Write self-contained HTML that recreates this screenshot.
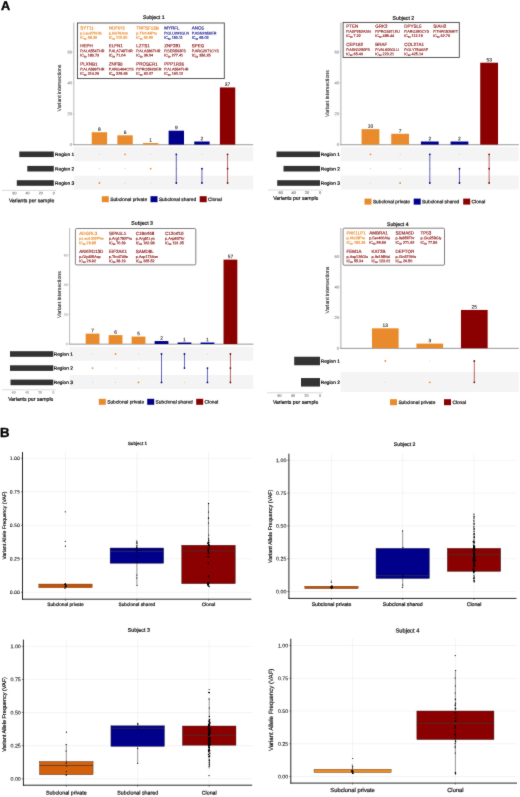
<!DOCTYPE html>
<html lang="en"><head><meta charset="utf-8"><title>Figure</title>
<style>
html,body{margin:0;padding:0;background:#fff;}
svg{display:block;font-family:"Liberation Sans",sans-serif;text-rendering:geometricPrecision;}
</style></head><body>
<svg width="520" height="797" viewBox="0 0 520 797">
<defs><filter id="soft" x="0" y="0" width="520" height="797" filterUnits="userSpaceOnUse" color-interpolation-filters="sRGB"><feConvolveMatrix order="3" kernelMatrix="0.2 0.8 0.2 0.8 8 0.8 0.2 0.8 0.2" edgeMode="duplicate" preserveAlpha="true"/></filter></defs>
<rect width="520" height="797" fill="#fff"/>
<g filter="url(#soft)">
<rect width="520" height="797" fill="#fff"/>
<text x="0.9" y="9.9" font-size="12.7" font-weight="bold" fill="#000" stroke="#000" stroke-width="0.35">A</text>
<text x="0" y="436.8" font-size="13.2" font-weight="bold" fill="#000" stroke="#000" stroke-width="0.35">B</text>
<rect x="73.8" y="147" width="179.4" height="14.2" fill="#F4F4F4"/>
<rect x="73.8" y="175.6" width="179.4" height="13.9" fill="#F4F4F4"/>
<line x1="73.8" y1="22.5" x2="73.8" y2="144.9" stroke="#A8A8A8" stroke-width="0.8"/>
<line x1="73.3" y1="144.75" x2="253.2" y2="144.75" stroke="#8C8C8C" stroke-width="0.9"/>
<line x1="72.6" y1="144.6" x2="73.8" y2="144.6" stroke="#999" stroke-width="0.4"/>
<text transform="translate(72 146.08) rotate(0.03)" font-size="4.1" fill="#8A8A8A" text-anchor="end" stroke="#8A8A8A" stroke-width="0.1">0</text>
<line x1="72.6" y1="113.7" x2="73.8" y2="113.7" stroke="#999" stroke-width="0.4"/>
<text transform="translate(72 115.18) rotate(0.03)" font-size="4.1" fill="#8A8A8A" text-anchor="end" stroke="#8A8A8A" stroke-width="0.1">20</text>
<line x1="72.6" y1="82.8" x2="73.8" y2="82.8" stroke="#999" stroke-width="0.4"/>
<text transform="translate(72 84.28) rotate(0.03)" font-size="4.1" fill="#8A8A8A" text-anchor="end" stroke="#8A8A8A" stroke-width="0.1">40</text>
<line x1="72.6" y1="51.9" x2="73.8" y2="51.9" stroke="#999" stroke-width="0.4"/>
<text transform="translate(72 53.38) rotate(0.03)" font-size="4.1" fill="#8A8A8A" text-anchor="end" stroke="#8A8A8A" stroke-width="0.1">60</text>
<rect x="91.74" y="132.24" width="15.38" height="12.36" fill="#E98B2C"/>
<text transform="translate(99.43 130.9) rotate(0.03)" font-size="4.9" fill="#111" text-anchor="middle" stroke="#111" stroke-width="0.08">8</text>
<rect x="117.37" y="135.33" width="15.38" height="9.27" fill="#E98B2C"/>
<text transform="translate(125.06 133.99) rotate(0.03)" font-size="4.9" fill="#111" text-anchor="middle" stroke="#111" stroke-width="0.08">6</text>
<rect x="143" y="143.06" width="15.38" height="1.54" fill="#E98B2C"/>
<text transform="translate(150.69 141.72) rotate(0.03)" font-size="4.9" fill="#111" text-anchor="middle" stroke="#111" stroke-width="0.08">1</text>
<rect x="168.63" y="130.69" width="15.38" height="13.91" fill="#00008B"/>
<text transform="translate(176.31 129.36) rotate(0.03)" font-size="4.9" fill="#111" text-anchor="middle" stroke="#111" stroke-width="0.08">9</text>
<rect x="194.25" y="141.51" width="15.38" height="3.09" fill="#00008B"/>
<text transform="translate(201.94 140.17) rotate(0.03)" font-size="4.9" fill="#111" text-anchor="middle" stroke="#111" stroke-width="0.08">2</text>
<rect x="219.88" y="87.44" width="15.38" height="57.16" fill="#8B0000"/>
<text transform="translate(227.57 86.1) rotate(0.03)" font-size="4.9" fill="#111" text-anchor="middle" stroke="#111" stroke-width="0.08">37</text>
<circle cx="99.43" cy="154.3" r="0.6" fill="#D0D0D0"/>
<circle cx="99.43" cy="168.7" r="0.6" fill="#D0D0D0"/>
<circle cx="99.43" cy="183" r="0.88" fill="#E98B2C"/>
<circle cx="125.06" cy="168.7" r="0.6" fill="#D0D0D0"/>
<circle cx="125.06" cy="183" r="0.6" fill="#D0D0D0"/>
<circle cx="125.06" cy="154.3" r="0.88" fill="#E98B2C"/>
<circle cx="150.69" cy="154.3" r="0.6" fill="#D0D0D0"/>
<circle cx="150.69" cy="183" r="0.6" fill="#D0D0D0"/>
<circle cx="150.69" cy="168.7" r="0.88" fill="#E98B2C"/>
<circle cx="176.31" cy="168.7" r="0.6" fill="#D0D0D0"/>
<line x1="176.31" y1="154.3" x2="176.31" y2="183" stroke="#00008B" stroke-width="0.6"/>
<circle cx="176.31" cy="154.3" r="0.88" fill="#00008B"/>
<circle cx="176.31" cy="183" r="0.88" fill="#00008B"/>
<circle cx="201.94" cy="154.3" r="0.6" fill="#D0D0D0"/>
<line x1="201.94" y1="168.7" x2="201.94" y2="183" stroke="#00008B" stroke-width="0.6"/>
<circle cx="201.94" cy="168.7" r="0.88" fill="#00008B"/>
<circle cx="201.94" cy="183" r="0.88" fill="#00008B"/>
<line x1="227.57" y1="154.3" x2="227.57" y2="183" stroke="#8B0000" stroke-width="0.6"/>
<circle cx="227.57" cy="154.3" r="0.88" fill="#8B0000"/>
<circle cx="227.57" cy="168.7" r="0.88" fill="#8B0000"/>
<circle cx="227.57" cy="183" r="0.88" fill="#8B0000"/>
<rect x="19.3" y="151.5" width="34.5" height="5.6" fill="#333333"/>
<text transform="translate(55.1 156.01) rotate(0.03)" font-size="4.75" fill="#000" stroke="#000" stroke-width="0.2">Region 1</text>
<rect x="27.3" y="165.9" width="26.5" height="5.6" fill="#333333"/>
<text transform="translate(55.1 170.41) rotate(0.03)" font-size="4.75" fill="#000" stroke="#000" stroke-width="0.2">Region 2</text>
<rect x="16.8" y="180.2" width="37" height="5.6" fill="#333333"/>
<text transform="translate(55.1 184.71) rotate(0.03)" font-size="4.75" fill="#000" stroke="#000" stroke-width="0.2">Region 3</text>
<line x1="2" y1="190.4" x2="56" y2="190.4" stroke="#B5B5B5" stroke-width="0.5"/>
<text transform="translate(53.8 194.3) rotate(0.03)" font-size="3.6" fill="#8A8A8A" text-anchor="middle" stroke="#8A8A8A" stroke-width="0.2">0</text>
<text transform="translate(40.68 194.3) rotate(0.03)" font-size="3.6" fill="#8A8A8A" text-anchor="middle" stroke="#8A8A8A" stroke-width="0.2">20</text>
<text transform="translate(27.56 194.3) rotate(0.03)" font-size="3.6" fill="#8A8A8A" text-anchor="middle" stroke="#8A8A8A" stroke-width="0.2">40</text>
<text transform="translate(14.44 194.3) rotate(0.03)" font-size="3.6" fill="#8A8A8A" text-anchor="middle" stroke="#8A8A8A" stroke-width="0.2">60</text>
<text transform="translate(31.6 202.15) rotate(0.03)" font-size="5.15" fill="#111" text-anchor="middle" stroke="#111" stroke-width="0.2">Variants per sample</text>
<text transform="translate(153.8 19.07) rotate(0.03)" font-size="5.2" fill="#111" text-anchor="middle" stroke="#111" stroke-width="0.2">Subject 1</text>
<text transform="translate(59.4 88) rotate(-90)" font-size="5.22" fill="#222" text-anchor="middle" dy="1.9" stroke="#222" stroke-width="0.08">Variant intersections</text>
<rect x="77.4" y="23" width="146.9" height="55.6" fill="#FFFFFF" stroke="#3C3C3C" stroke-width="0.85"/>
<text transform="translate(80.3 29.62) rotate(0.03)" font-size="4.5" fill="#E98B2C" stroke="#E98B2C" stroke-width="0.16">SYT11</text>
<text transform="translate(80.3 34.55) rotate(0.03)" font-size="3.75" fill="#E98B2C" stroke="#E98B2C" stroke-width="0.16">p.Leu272Hfs</text>
<text transform="translate(80.3 38.85) rotate(0.03)" font-size="3.75" fill="#E98B2C" stroke="#E98B2C" stroke-width="0.16">IC<tspan font-size="2.33" dy="0.82">50</tspan><tspan dy="-0.82"> 68.36</tspan></text>
<text transform="translate(108.7 29.62) rotate(0.03)" font-size="4.5" fill="#E98B2C" stroke="#E98B2C" stroke-width="0.16">NDFIP2</text>
<text transform="translate(108.7 34.55) rotate(0.03)" font-size="3.75" fill="#E98B2C" stroke="#E98B2C" stroke-width="0.16">p.His76Asn</text>
<text transform="translate(108.7 38.85) rotate(0.03)" font-size="3.75" fill="#E98B2C" stroke="#E98B2C" stroke-width="0.16">IC<tspan font-size="2.33" dy="0.82">50</tspan><tspan dy="-0.82"> 110.30</tspan></text>
<text transform="translate(136.3 29.62) rotate(0.03)" font-size="4.5" fill="#E98B2C" stroke="#E98B2C" stroke-width="0.16">TNFSF13B</text>
<text transform="translate(136.3 34.55) rotate(0.03)" font-size="3.75" fill="#E98B2C" stroke="#E98B2C" stroke-width="0.16">p.Thr143Pro</text>
<text transform="translate(136.3 38.85) rotate(0.03)" font-size="3.75" fill="#E98B2C" stroke="#E98B2C" stroke-width="0.16">IC<tspan font-size="2.33" dy="0.82">50</tspan><tspan dy="-0.82"> 62.90</tspan></text>
<text transform="translate(164.3 29.62) rotate(0.03)" font-size="4.5" fill="#1C1C8E" stroke="#1C1C8E" stroke-width="0.16">MYRFL</text>
<text transform="translate(164.3 34.55) rotate(0.03)" font-size="3.75" fill="#1C1C8E" stroke="#1C1C8E" stroke-width="0.16">P.GLU291GLN</text>
<text transform="translate(164.3 38.85) rotate(0.03)" font-size="3.75" fill="#1C1C8E" stroke="#1C1C8E" stroke-width="0.16">IC<tspan font-size="2.33" dy="0.82">50</tspan><tspan dy="-0.82"> 153.11</tspan></text>
<text transform="translate(191.8 29.62) rotate(0.03)" font-size="4.5" fill="#1C1C8E" stroke="#1C1C8E" stroke-width="0.16">ANO5</text>
<text transform="translate(191.8 34.55) rotate(0.03)" font-size="3.75" fill="#1C1C8E" stroke="#1C1C8E" stroke-width="0.16">P.ASN265SER</text>
<text transform="translate(191.8 38.85) rotate(0.03)" font-size="3.75" fill="#1C1C8E" stroke="#1C1C8E" stroke-width="0.16">IC<tspan font-size="2.33" dy="0.82">50</tspan><tspan dy="-0.82"> 65.03</tspan></text>
<text transform="translate(80.3 47.32) rotate(0.03)" font-size="4.5" fill="#8E1B1B" stroke="#8E1B1B" stroke-width="0.16">HEPH</text>
<text transform="translate(80.3 52.25) rotate(0.03)" font-size="3.75" fill="#8E1B1B" stroke="#8E1B1B" stroke-width="0.16">P.ALA554THR</text>
<text transform="translate(80.3 56.55) rotate(0.03)" font-size="3.75" fill="#8E1B1B" stroke="#8E1B1B" stroke-width="0.16">IC<tspan font-size="2.33" dy="0.82">50</tspan><tspan dy="-0.82"> 183.73</tspan></text>
<text transform="translate(108.7 47.32) rotate(0.03)" font-size="4.5" fill="#8E1B1B" stroke="#8E1B1B" stroke-width="0.16">ELFN1</text>
<text transform="translate(108.7 52.25) rotate(0.03)" font-size="3.75" fill="#8E1B1B" stroke="#8E1B1B" stroke-width="0.16">P.ALA749THR</text>
<text transform="translate(108.7 56.55) rotate(0.03)" font-size="3.75" fill="#8E1B1B" stroke="#8E1B1B" stroke-width="0.16">IC<tspan font-size="2.33" dy="0.82">50</tspan><tspan dy="-0.82"> 71.04</tspan></text>
<text transform="translate(136.3 47.32) rotate(0.03)" font-size="4.5" fill="#8E1B1B" stroke="#8E1B1B" stroke-width="0.16">LZTS1</text>
<text transform="translate(136.3 52.25) rotate(0.03)" font-size="3.75" fill="#8E1B1B" stroke="#8E1B1B" stroke-width="0.16">P.ALA386THR</text>
<text transform="translate(136.3 56.55) rotate(0.03)" font-size="3.75" fill="#8E1B1B" stroke="#8E1B1B" stroke-width="0.16">IC<tspan font-size="2.33" dy="0.82">50</tspan><tspan dy="-0.82"> 39.04</tspan></text>
<text transform="translate(164.3 47.32) rotate(0.03)" font-size="4.5" fill="#8E1B1B" stroke="#8E1B1B" stroke-width="0.16">ZNF281</text>
<text transform="translate(164.3 52.25) rotate(0.03)" font-size="3.75" fill="#8E1B1B" stroke="#8E1B1B" stroke-width="0.16">P.SER593FS</text>
<text transform="translate(164.3 56.55) rotate(0.03)" font-size="3.75" fill="#8E1B1B" stroke="#8E1B1B" stroke-width="0.16">IC<tspan font-size="2.33" dy="0.82">50</tspan><tspan dy="-0.82"> 277.41</tspan></text>
<text transform="translate(191.8 47.32) rotate(0.03)" font-size="4.5" fill="#8E1B1B" stroke="#8E1B1B" stroke-width="0.16">SPEG</text>
<text transform="translate(191.8 52.25) rotate(0.03)" font-size="3.75" fill="#8E1B1B" stroke="#8E1B1B" stroke-width="0.16">P.ARG2071CYS</text>
<text transform="translate(191.8 56.55) rotate(0.03)" font-size="3.75" fill="#8E1B1B" stroke="#8E1B1B" stroke-width="0.16">IC<tspan font-size="2.33" dy="0.82">50</tspan><tspan dy="-0.82"> 356.25</tspan></text>
<text transform="translate(80.3 65.62) rotate(0.03)" font-size="4.5" fill="#8E1B1B" stroke="#8E1B1B" stroke-width="0.16">PLXNB1</text>
<text transform="translate(80.3 70.55) rotate(0.03)" font-size="3.75" fill="#8E1B1B" stroke="#8E1B1B" stroke-width="0.16">P.ALA589THR</text>
<text transform="translate(80.3 74.85) rotate(0.03)" font-size="3.75" fill="#8E1B1B" stroke="#8E1B1B" stroke-width="0.16">IC<tspan font-size="2.33" dy="0.82">50</tspan><tspan dy="-0.82"> 314.26</tspan></text>
<text transform="translate(108.7 65.62) rotate(0.03)" font-size="4.5" fill="#8E1B1B" stroke="#8E1B1B" stroke-width="0.16">ZNF90</text>
<text transform="translate(108.7 70.55) rotate(0.03)" font-size="3.75" fill="#8E1B1B" stroke="#8E1B1B" stroke-width="0.16">P.ARG464CYS</text>
<text transform="translate(108.7 74.85) rotate(0.03)" font-size="3.75" fill="#8E1B1B" stroke="#8E1B1B" stroke-width="0.16">IC<tspan font-size="2.33" dy="0.82">50</tspan><tspan dy="-0.82"> 325.65</tspan></text>
<text transform="translate(136.3 65.62) rotate(0.03)" font-size="4.5" fill="#8E1B1B" stroke="#8E1B1B" stroke-width="0.16">PROSER1</text>
<text transform="translate(136.3 70.55) rotate(0.03)" font-size="3.75" fill="#8E1B1B" stroke="#8E1B1B" stroke-width="0.16">P.PRO592SER</text>
<text transform="translate(136.3 74.85) rotate(0.03)" font-size="3.75" fill="#8E1B1B" stroke="#8E1B1B" stroke-width="0.16">IC<tspan font-size="2.33" dy="0.82">50</tspan><tspan dy="-0.82"> 60.07</tspan></text>
<text transform="translate(164.3 65.62) rotate(0.03)" font-size="4.5" fill="#8E1B1B" stroke="#8E1B1B" stroke-width="0.16">PPP1R26</text>
<text transform="translate(164.3 70.55) rotate(0.03)" font-size="3.75" fill="#8E1B1B" stroke="#8E1B1B" stroke-width="0.16">P.ALA554THR</text>
<text transform="translate(164.3 74.85) rotate(0.03)" font-size="3.75" fill="#8E1B1B" stroke="#8E1B1B" stroke-width="0.16">IC<tspan font-size="2.33" dy="0.82">50</tspan><tspan dy="-0.82"> 160.12</tspan></text>
<rect x="101.8" y="196.2" width="7" height="6" fill="#E98B2C"/>
<text transform="translate(110.2 200.94) rotate(0.03)" font-size="4.82" fill="#111" stroke="#111" stroke-width="0.2">Subclonal private</text>
<rect x="150.5" y="196.2" width="7" height="6" fill="#00008B"/>
<text transform="translate(158.9 200.94) rotate(0.03)" font-size="4.82" fill="#111" stroke="#111" stroke-width="0.2">Subclonal shared</text>
<rect x="199.7" y="196.2" width="7" height="6" fill="#8B0000"/>
<text transform="translate(208.1 200.94) rotate(0.03)" font-size="4.82" fill="#111" stroke="#111" stroke-width="0.2">Clonal</text>
<rect x="340.8" y="147" width="178" height="14.2" fill="#F4F4F4"/>
<rect x="340.8" y="175.5" width="178" height="14" fill="#F4F4F4"/>
<line x1="340.8" y1="22.5" x2="340.8" y2="144.9" stroke="#CDCDCD" stroke-width="1.7"/>
<line x1="340.3" y1="144.75" x2="518.8" y2="144.75" stroke="#8C8C8C" stroke-width="0.9"/>
<line x1="339.6" y1="144.6" x2="340.8" y2="144.6" stroke="#999" stroke-width="0.4"/>
<text transform="translate(339 146.08) rotate(0.03)" font-size="4.1" fill="#8A8A8A" text-anchor="end" stroke="#8A8A8A" stroke-width="0.1">0</text>
<line x1="339.6" y1="113.7" x2="340.8" y2="113.7" stroke="#999" stroke-width="0.4"/>
<text transform="translate(339 115.18) rotate(0.03)" font-size="4.1" fill="#8A8A8A" text-anchor="end" stroke="#8A8A8A" stroke-width="0.1">20</text>
<line x1="339.6" y1="82.8" x2="340.8" y2="82.8" stroke="#999" stroke-width="0.4"/>
<text transform="translate(339 84.28) rotate(0.03)" font-size="4.1" fill="#8A8A8A" text-anchor="end" stroke="#8A8A8A" stroke-width="0.1">40</text>
<line x1="339.6" y1="51.9" x2="340.8" y2="51.9" stroke="#999" stroke-width="0.4"/>
<text transform="translate(339 53.38) rotate(0.03)" font-size="4.1" fill="#8A8A8A" text-anchor="end" stroke="#8A8A8A" stroke-width="0.1">60</text>
<rect x="361.57" y="129.15" width="17.8" height="15.45" fill="#E98B2C"/>
<text transform="translate(370.47 127.81) rotate(0.03)" font-size="4.9" fill="#111" text-anchor="middle" stroke="#111" stroke-width="0.08">10</text>
<rect x="391.23" y="133.78" width="17.8" height="10.81" fill="#E98B2C"/>
<text transform="translate(400.13 132.45) rotate(0.03)" font-size="4.9" fill="#111" text-anchor="middle" stroke="#111" stroke-width="0.08">7</text>
<rect x="420.9" y="141.51" width="17.8" height="3.09" fill="#00008B"/>
<text transform="translate(429.8 140.17) rotate(0.03)" font-size="4.9" fill="#111" text-anchor="middle" stroke="#111" stroke-width="0.08">2</text>
<rect x="450.57" y="141.51" width="17.8" height="3.09" fill="#00008B"/>
<text transform="translate(459.47 140.17) rotate(0.03)" font-size="4.9" fill="#111" text-anchor="middle" stroke="#111" stroke-width="0.08">2</text>
<rect x="480.23" y="62.72" width="17.8" height="81.88" fill="#8B0000"/>
<text transform="translate(489.13 61.38) rotate(0.03)" font-size="4.9" fill="#111" text-anchor="middle" stroke="#111" stroke-width="0.08">53</text>
<circle cx="370.47" cy="168.7" r="0.6" fill="#D0D0D0"/>
<circle cx="370.47" cy="183" r="0.6" fill="#D0D0D0"/>
<circle cx="370.47" cy="154.3" r="0.88" fill="#E98B2C"/>
<circle cx="400.13" cy="154.3" r="0.6" fill="#D0D0D0"/>
<circle cx="400.13" cy="168.7" r="0.6" fill="#D0D0D0"/>
<circle cx="400.13" cy="183" r="0.88" fill="#E98B2C"/>
<circle cx="429.8" cy="168.7" r="0.6" fill="#D0D0D0"/>
<line x1="429.8" y1="154.3" x2="429.8" y2="183" stroke="#00008B" stroke-width="0.6"/>
<circle cx="429.8" cy="154.3" r="0.88" fill="#00008B"/>
<circle cx="429.8" cy="183" r="0.88" fill="#00008B"/>
<circle cx="459.47" cy="154.3" r="0.6" fill="#D0D0D0"/>
<line x1="459.47" y1="168.7" x2="459.47" y2="183" stroke="#00008B" stroke-width="0.6"/>
<circle cx="459.47" cy="168.7" r="0.88" fill="#00008B"/>
<circle cx="459.47" cy="183" r="0.88" fill="#00008B"/>
<line x1="489.13" y1="154.3" x2="489.13" y2="183" stroke="#8B0000" stroke-width="0.6"/>
<circle cx="489.13" cy="154.3" r="0.88" fill="#8B0000"/>
<circle cx="489.13" cy="168.7" r="0.88" fill="#8B0000"/>
<circle cx="489.13" cy="183" r="0.88" fill="#8B0000"/>
<rect x="276.5" y="151.5" width="43.5" height="5.6" fill="#333333"/>
<text transform="translate(320.8 156.01) rotate(0.03)" font-size="4.75" fill="#000" stroke="#000" stroke-width="0.2">Region 1</text>
<rect x="283.5" y="165.9" width="36.5" height="5.6" fill="#333333"/>
<text transform="translate(320.8 170.41) rotate(0.03)" font-size="4.75" fill="#000" stroke="#000" stroke-width="0.2">Region 2</text>
<rect x="277.2" y="180.2" width="42.8" height="5.6" fill="#333333"/>
<text transform="translate(320.8 184.71) rotate(0.03)" font-size="4.75" fill="#000" stroke="#000" stroke-width="0.2">Region 3</text>
<line x1="268" y1="190" x2="322.5" y2="190" stroke="#B5B5B5" stroke-width="0.5"/>
<text transform="translate(320 194.04) rotate(0.03)" font-size="4" fill="#8A8A8A" text-anchor="middle" stroke="#8A8A8A" stroke-width="0.2">0</text>
<text transform="translate(306.88 194.04) rotate(0.03)" font-size="4" fill="#8A8A8A" text-anchor="middle" stroke="#8A8A8A" stroke-width="0.2">20</text>
<text transform="translate(293.76 194.04) rotate(0.03)" font-size="4" fill="#8A8A8A" text-anchor="middle" stroke="#8A8A8A" stroke-width="0.2">40</text>
<text transform="translate(280.64 194.04) rotate(0.03)" font-size="4" fill="#8A8A8A" text-anchor="middle" stroke="#8A8A8A" stroke-width="0.2">60</text>
<text transform="translate(295.8 199.85) rotate(0.03)" font-size="5.15" fill="#111" text-anchor="middle" stroke="#111" stroke-width="0.2">Variants per sample</text>
<text transform="translate(403.4 19.87) rotate(0.03)" font-size="5.2" fill="#111" text-anchor="middle" stroke="#111" stroke-width="0.2">Subject 2</text>
<text transform="translate(327 93.5) rotate(-90)" font-size="5.22" fill="#222" text-anchor="middle" dy="1.9" stroke="#222" stroke-width="0.08">Variant intersections</text>
<rect x="343.1" y="22.4" width="116.2" height="35" fill="#FFFFFF" stroke="#3C3C3C" stroke-width="0.85"/>
<text transform="translate(346.2 27.72) rotate(0.03)" font-size="4.5" fill="#8E1B1B" stroke="#8E1B1B" stroke-width="0.16">PTEN</text>
<text transform="translate(346.2 32.65) rotate(0.03)" font-size="3.75" fill="#8E1B1B" stroke="#8E1B1B" stroke-width="0.16">P.ASP252ASN</text>
<text transform="translate(346.2 36.95) rotate(0.03)" font-size="3.75" fill="#8E1B1B" stroke="#8E1B1B" stroke-width="0.16">IC<tspan font-size="2.33" dy="0.82">50</tspan><tspan dy="-0.82"> 7.22</tspan></text>
<text transform="translate(375.2 27.72) rotate(0.03)" font-size="4.5" fill="#8E1B1B" stroke="#8E1B1B" stroke-width="0.16">GRK2</text>
<text transform="translate(375.2 32.65) rotate(0.03)" font-size="3.75" fill="#8E1B1B" stroke="#8E1B1B" stroke-width="0.16">P.PRO347LEU</text>
<text transform="translate(375.2 36.95) rotate(0.03)" font-size="3.75" fill="#8E1B1B" stroke="#8E1B1B" stroke-width="0.16">IC<tspan font-size="2.33" dy="0.82">50</tspan><tspan dy="-0.82"> 489.44</tspan></text>
<text transform="translate(404.2 27.72) rotate(0.03)" font-size="4.5" fill="#8E1B1B" stroke="#8E1B1B" stroke-width="0.16">DPYSL5</text>
<text transform="translate(404.2 32.65) rotate(0.03)" font-size="3.75" fill="#8E1B1B" stroke="#8E1B1B" stroke-width="0.16">P.ARG390CYS</text>
<text transform="translate(404.2 36.95) rotate(0.03)" font-size="3.75" fill="#8E1B1B" stroke="#8E1B1B" stroke-width="0.16">IC<tspan font-size="2.33" dy="0.82">50</tspan><tspan dy="-0.82"> 112.19</tspan></text>
<text transform="translate(433.2 27.72) rotate(0.03)" font-size="4.5" fill="#8E1B1B" stroke="#8E1B1B" stroke-width="0.16">SIAH2</text>
<text transform="translate(433.2 32.65) rotate(0.03)" font-size="3.75" fill="#8E1B1B" stroke="#8E1B1B" stroke-width="0.16">P.THR152MET</text>
<text transform="translate(433.2 36.95) rotate(0.03)" font-size="3.75" fill="#8E1B1B" stroke="#8E1B1B" stroke-width="0.16">IC<tspan font-size="2.33" dy="0.82">50</tspan><tspan dy="-0.82"> 62.76</tspan></text>
<text transform="translate(346.2 46.02) rotate(0.03)" font-size="4.5" fill="#8E1B1B" stroke="#8E1B1B" stroke-width="0.16">CEP162</text>
<text transform="translate(346.2 50.95) rotate(0.03)" font-size="3.75" fill="#8E1B1B" stroke="#8E1B1B" stroke-width="0.16">P.ASN1250FS</text>
<text transform="translate(346.2 55.25) rotate(0.03)" font-size="3.75" fill="#8E1B1B" stroke="#8E1B1B" stroke-width="0.16">IC<tspan font-size="2.33" dy="0.82">50</tspan><tspan dy="-0.82"> 65.40</tspan></text>
<text transform="translate(375.2 46.02) rotate(0.03)" font-size="4.5" fill="#8E1B1B" stroke="#8E1B1B" stroke-width="0.16">BRAF</text>
<text transform="translate(375.2 50.95) rotate(0.03)" font-size="3.75" fill="#8E1B1B" stroke="#8E1B1B" stroke-width="0.16">P.VAL600GLU</text>
<text transform="translate(375.2 55.25) rotate(0.03)" font-size="3.75" fill="#8E1B1B" stroke="#8E1B1B" stroke-width="0.16">IC<tspan font-size="2.33" dy="0.82">50</tspan><tspan dy="-0.82"> 223.21</tspan></text>
<text transform="translate(404.2 46.02) rotate(0.03)" font-size="4.5" fill="#8E1B1B" stroke="#8E1B1B" stroke-width="0.16">COL27A1</text>
<text transform="translate(404.2 50.95) rotate(0.03)" font-size="3.75" fill="#8E1B1B" stroke="#8E1B1B" stroke-width="0.16">P.GLY754ASP</text>
<text transform="translate(404.2 55.25) rotate(0.03)" font-size="3.75" fill="#8E1B1B" stroke="#8E1B1B" stroke-width="0.16">IC<tspan font-size="2.33" dy="0.82">50</tspan><tspan dy="-0.82"> 425.14</tspan></text>
<rect x="364.5" y="198.6" width="7" height="6" fill="#E98B2C"/>
<text transform="translate(372.9 203.34) rotate(0.03)" font-size="4.82" fill="#111" stroke="#111" stroke-width="0.2">Subclonal private</text>
<rect x="413.7" y="198.6" width="7" height="6" fill="#00008B"/>
<text transform="translate(422.1 203.34) rotate(0.03)" font-size="4.82" fill="#111" stroke="#111" stroke-width="0.2">Subclonal shared</text>
<rect x="463.2" y="198.6" width="7" height="6" fill="#8B0000"/>
<text transform="translate(471.6 203.34) rotate(0.03)" font-size="4.82" fill="#111" stroke="#111" stroke-width="0.2">Clonal</text>
<rect x="69.6" y="346.8" width="183.8" height="14" fill="#F4F4F4"/>
<rect x="69.6" y="375" width="183.8" height="14" fill="#F4F4F4"/>
<line x1="69.6" y1="228" x2="69.6" y2="344.3" stroke="#A8A8A8" stroke-width="0.8"/>
<line x1="69.1" y1="344.15" x2="253.4" y2="344.15" stroke="#8C8C8C" stroke-width="0.9"/>
<line x1="68.4" y1="344" x2="69.6" y2="344" stroke="#999" stroke-width="0.4"/>
<text transform="translate(67.8 345.3) rotate(0.03)" font-size="3.6" fill="#A0A0A0" text-anchor="end" stroke="#A0A0A0" stroke-width="0.1">0</text>
<line x1="68.4" y1="314.4" x2="69.6" y2="314.4" stroke="#999" stroke-width="0.4"/>
<text transform="translate(67.8 315.7) rotate(0.03)" font-size="3.6" fill="#A0A0A0" text-anchor="end" stroke="#A0A0A0" stroke-width="0.1">20</text>
<line x1="68.4" y1="284.8" x2="69.6" y2="284.8" stroke="#999" stroke-width="0.4"/>
<text transform="translate(67.8 286.1) rotate(0.03)" font-size="3.6" fill="#A0A0A0" text-anchor="end" stroke="#A0A0A0" stroke-width="0.1">40</text>
<line x1="68.4" y1="255.2" x2="69.6" y2="255.2" stroke="#999" stroke-width="0.4"/>
<text transform="translate(67.8 256.5) rotate(0.03)" font-size="3.6" fill="#A0A0A0" text-anchor="end" stroke="#A0A0A0" stroke-width="0.1">60</text>
<rect x="85.68" y="333.64" width="13.78" height="10.36" fill="#E98B2C"/>
<text transform="translate(92.57 332.3) rotate(0.03)" font-size="4.9" fill="#111" text-anchor="middle" stroke="#111" stroke-width="0.08">7</text>
<rect x="108.66" y="335.12" width="13.78" height="8.88" fill="#E98B2C"/>
<text transform="translate(115.55 333.78) rotate(0.03)" font-size="4.9" fill="#111" text-anchor="middle" stroke="#111" stroke-width="0.08">6</text>
<rect x="131.63" y="336.6" width="13.79" height="7.4" fill="#E98B2C"/>
<text transform="translate(138.53 335.26) rotate(0.03)" font-size="4.9" fill="#111" text-anchor="middle" stroke="#111" stroke-width="0.08">5</text>
<rect x="154.61" y="341.04" width="13.79" height="2.96" fill="#00008B"/>
<text transform="translate(161.5 339.7) rotate(0.03)" font-size="4.9" fill="#111" text-anchor="middle" stroke="#111" stroke-width="0.08">2</text>
<rect x="177.58" y="342.52" width="13.79" height="1.48" fill="#00008B"/>
<text transform="translate(184.47 341.18) rotate(0.03)" font-size="4.9" fill="#111" text-anchor="middle" stroke="#111" stroke-width="0.08">1</text>
<rect x="200.56" y="342.52" width="13.79" height="1.48" fill="#00008B"/>
<text transform="translate(207.45 341.18) rotate(0.03)" font-size="4.9" fill="#111" text-anchor="middle" stroke="#111" stroke-width="0.08">1</text>
<rect x="223.53" y="259.64" width="13.79" height="84.36" fill="#8B0000"/>
<text transform="translate(230.43 258.3) rotate(0.03)" font-size="4.9" fill="#111" text-anchor="middle" stroke="#111" stroke-width="0.08">57</text>
<circle cx="92.57" cy="354" r="0.6" fill="#D0D0D0"/>
<circle cx="92.57" cy="382.4" r="0.6" fill="#D0D0D0"/>
<circle cx="92.57" cy="368.1" r="0.88" fill="#E98B2C"/>
<circle cx="115.55" cy="368.1" r="0.6" fill="#D0D0D0"/>
<circle cx="115.55" cy="382.4" r="0.6" fill="#D0D0D0"/>
<circle cx="115.55" cy="354" r="0.88" fill="#E98B2C"/>
<circle cx="138.53" cy="354" r="0.6" fill="#D0D0D0"/>
<circle cx="138.53" cy="368.1" r="0.6" fill="#D0D0D0"/>
<circle cx="138.53" cy="382.4" r="0.88" fill="#E98B2C"/>
<circle cx="161.5" cy="368.1" r="0.6" fill="#D0D0D0"/>
<line x1="161.5" y1="354" x2="161.5" y2="382.4" stroke="#00008B" stroke-width="0.6"/>
<circle cx="161.5" cy="354" r="0.88" fill="#00008B"/>
<circle cx="161.5" cy="382.4" r="0.88" fill="#00008B"/>
<circle cx="184.47" cy="382.4" r="0.6" fill="#D0D0D0"/>
<line x1="184.47" y1="354" x2="184.47" y2="368.1" stroke="#00008B" stroke-width="0.6"/>
<circle cx="184.47" cy="354" r="0.88" fill="#00008B"/>
<circle cx="184.47" cy="368.1" r="0.88" fill="#00008B"/>
<circle cx="207.45" cy="354" r="0.6" fill="#D0D0D0"/>
<line x1="207.45" y1="368.1" x2="207.45" y2="382.4" stroke="#00008B" stroke-width="0.6"/>
<circle cx="207.45" cy="368.1" r="0.88" fill="#00008B"/>
<circle cx="207.45" cy="382.4" r="0.88" fill="#00008B"/>
<line x1="230.43" y1="354" x2="230.43" y2="382.4" stroke="#8B0000" stroke-width="0.6"/>
<circle cx="230.43" cy="354" r="0.88" fill="#8B0000"/>
<circle cx="230.43" cy="368.1" r="0.88" fill="#8B0000"/>
<circle cx="230.43" cy="382.4" r="0.88" fill="#8B0000"/>
<rect x="10" y="351.2" width="43.3" height="5.6" fill="#333333"/>
<text transform="translate(53.8 355.71) rotate(0.03)" font-size="4.75" fill="#000" stroke="#000" stroke-width="0.2">Region 1</text>
<rect x="10" y="365.3" width="43.3" height="5.6" fill="#333333"/>
<text transform="translate(53.8 369.81) rotate(0.03)" font-size="4.75" fill="#000" stroke="#000" stroke-width="0.2">Region 2</text>
<rect x="10.5" y="379.6" width="42.8" height="5.6" fill="#333333"/>
<text transform="translate(53.8 384.11) rotate(0.03)" font-size="4.75" fill="#000" stroke="#000" stroke-width="0.2">Region 3</text>
<line x1="2" y1="389.8" x2="55.5" y2="389.8" stroke="#B5B5B5" stroke-width="0.5"/>
<text transform="translate(53.3 393.59) rotate(0.03)" font-size="3.3" fill="#A5A5A5" text-anchor="middle" stroke="#A5A5A5" stroke-width="0.2">0</text>
<text transform="translate(40.1 393.59) rotate(0.03)" font-size="3.3" fill="#A5A5A5" text-anchor="middle" stroke="#A5A5A5" stroke-width="0.2">20</text>
<text transform="translate(26.9 393.59) rotate(0.03)" font-size="3.3" fill="#A5A5A5" text-anchor="middle" stroke="#A5A5A5" stroke-width="0.2">40</text>
<text transform="translate(13.7 393.59) rotate(0.03)" font-size="3.3" fill="#A5A5A5" text-anchor="middle" stroke="#A5A5A5" stroke-width="0.2">60</text>
<text transform="translate(30.8 400.85) rotate(0.03)" font-size="5.15" fill="#111" text-anchor="middle" stroke="#111" stroke-width="0.2">Variants per sample</text>
<text transform="translate(142.1 224.87) rotate(0.03)" font-size="5.2" fill="#111" text-anchor="middle" stroke="#111" stroke-width="0.2">Subject 3</text>
<text transform="translate(59.3 294.5) rotate(-90)" font-size="5.22" fill="#222" text-anchor="middle" dy="1.9" stroke="#222" stroke-width="0.08">Variant intersections</text>
<rect x="75.4" y="228.5" width="120.4" height="36.4" fill="#FFFFFF" stroke="#4A4A4A" stroke-width="0.7" rx="1.2"/>
<text transform="translate(79.2 234.92) rotate(0.03)" font-size="4.5" fill="#E98B2C" stroke="#E98B2C" stroke-width="0.16">ADGRL3</text>
<text transform="translate(79.2 239.85) rotate(0.03)" font-size="3.75" fill="#E98B2C" stroke="#E98B2C" stroke-width="0.16">p.Leu1302Phe</text>
<text transform="translate(79.2 244.15) rotate(0.03)" font-size="3.75" fill="#E98B2C" stroke="#E98B2C" stroke-width="0.16">IC<tspan font-size="2.33" dy="0.82">50</tspan><tspan dy="-0.82"> 29.85</tspan></text>
<text transform="translate(108.9 234.92) rotate(0.03)" font-size="4.5" fill="#8E1B1B" stroke="#8E1B1B" stroke-width="0.16">SIPA1L1</text>
<text transform="translate(108.9 239.85) rotate(0.03)" font-size="3.75" fill="#8E1B1B" stroke="#8E1B1B" stroke-width="0.16">p.Arg1752Pro</text>
<text transform="translate(108.9 244.15) rotate(0.03)" font-size="3.75" fill="#8E1B1B" stroke="#8E1B1B" stroke-width="0.16">IC<tspan font-size="2.33" dy="0.82">50</tspan><tspan dy="-0.82"> 70.39</tspan></text>
<text transform="translate(135.8 234.92) rotate(0.03)" font-size="4.5" fill="#8E1B1B" stroke="#8E1B1B" stroke-width="0.16">C19orf48</text>
<text transform="translate(135.8 239.85) rotate(0.03)" font-size="3.75" fill="#8E1B1B" stroke="#8E1B1B" stroke-width="0.16">p.Arg51Lys</text>
<text transform="translate(135.8 244.15) rotate(0.03)" font-size="3.75" fill="#8E1B1B" stroke="#8E1B1B" stroke-width="0.16">IC<tspan font-size="2.33" dy="0.82">50</tspan><tspan dy="-0.82"> 162.98</tspan></text>
<text transform="translate(165 234.92) rotate(0.03)" font-size="4.5" fill="#8E1B1B" stroke="#8E1B1B" stroke-width="0.16">C12orf10</text>
<text transform="translate(165 239.85) rotate(0.03)" font-size="3.75" fill="#8E1B1B" stroke="#8E1B1B" stroke-width="0.16">p.Asp83Thr</text>
<text transform="translate(165 244.15) rotate(0.03)" font-size="3.75" fill="#8E1B1B" stroke="#8E1B1B" stroke-width="0.16">IC<tspan font-size="2.33" dy="0.82">50</tspan><tspan dy="-0.82"> 191.35</tspan></text>
<text transform="translate(79.2 253.02) rotate(0.03)" font-size="4.5" fill="#8E1B1B" stroke="#8E1B1B" stroke-width="0.16">ANKRD13D</text>
<text transform="translate(79.2 257.95) rotate(0.03)" font-size="3.75" fill="#8E1B1B" stroke="#8E1B1B" stroke-width="0.16">p.Gly405Asp</text>
<text transform="translate(79.2 262.25) rotate(0.03)" font-size="3.75" fill="#8E1B1B" stroke="#8E1B1B" stroke-width="0.16">IC<tspan font-size="2.33" dy="0.82">50</tspan><tspan dy="-0.82"> 26.92</tspan></text>
<text transform="translate(108.9 253.02) rotate(0.03)" font-size="4.5" fill="#8E1B1B" stroke="#8E1B1B" stroke-width="0.16">EIF2AK1</text>
<text transform="translate(108.9 257.95) rotate(0.03)" font-size="3.75" fill="#8E1B1B" stroke="#8E1B1B" stroke-width="0.16">p.Thr474Ile</text>
<text transform="translate(108.9 262.25) rotate(0.03)" font-size="3.75" fill="#8E1B1B" stroke="#8E1B1B" stroke-width="0.16">IC<tspan font-size="2.33" dy="0.82">50</tspan><tspan dy="-0.82"> 38.19</tspan></text>
<text transform="translate(135.8 253.02) rotate(0.03)" font-size="4.5" fill="#8E1B1B" stroke="#8E1B1B" stroke-width="0.16">SAMD9L</text>
<text transform="translate(135.8 257.95) rotate(0.03)" font-size="3.75" fill="#8E1B1B" stroke="#8E1B1B" stroke-width="0.16">p.Asp173Asn</text>
<text transform="translate(135.8 262.25) rotate(0.03)" font-size="3.75" fill="#8E1B1B" stroke="#8E1B1B" stroke-width="0.16">IC<tspan font-size="2.33" dy="0.82">50</tspan><tspan dy="-0.82"> 265.52</tspan></text>
<rect x="98.8" y="398.8" width="7" height="6" fill="#E98B2C"/>
<text transform="translate(107.2 403.54) rotate(0.03)" font-size="4.82" fill="#111" stroke="#111" stroke-width="0.2">Subclonal private</text>
<rect x="147.2" y="398.8" width="7" height="6" fill="#00008B"/>
<text transform="translate(155.6 403.54) rotate(0.03)" font-size="4.82" fill="#111" stroke="#111" stroke-width="0.2">Subclonal shared</text>
<rect x="196.2" y="398.8" width="7" height="6" fill="#8B0000"/>
<text transform="translate(204.6 403.54) rotate(0.03)" font-size="4.82" fill="#111" stroke="#111" stroke-width="0.2">Clonal</text>
<rect x="340.8" y="372" width="178" height="20" fill="#F4F4F4"/>
<line x1="340.8" y1="228" x2="340.8" y2="348.5" stroke="#CDCDCD" stroke-width="1.7"/>
<line x1="340.3" y1="348.35" x2="518.8" y2="348.35" stroke="#8C8C8C" stroke-width="0.9"/>
<line x1="339.6" y1="348.2" x2="340.8" y2="348.2" stroke="#999" stroke-width="0.4"/>
<text transform="translate(339 349.68) rotate(0.03)" font-size="4.1" fill="#8A8A8A" text-anchor="end" stroke="#8A8A8A" stroke-width="0.1">0</text>
<line x1="339.6" y1="317.6" x2="340.8" y2="317.6" stroke="#999" stroke-width="0.4"/>
<text transform="translate(339 319.08) rotate(0.03)" font-size="4.1" fill="#8A8A8A" text-anchor="end" stroke="#8A8A8A" stroke-width="0.1">20</text>
<line x1="339.6" y1="287" x2="340.8" y2="287" stroke="#999" stroke-width="0.4"/>
<text transform="translate(339 288.48) rotate(0.03)" font-size="4.1" fill="#8A8A8A" text-anchor="end" stroke="#8A8A8A" stroke-width="0.1">40</text>
<line x1="339.6" y1="256.4" x2="340.8" y2="256.4" stroke="#999" stroke-width="0.4"/>
<text transform="translate(339 257.88) rotate(0.03)" font-size="4.1" fill="#8A8A8A" text-anchor="end" stroke="#8A8A8A" stroke-width="0.1">60</text>
<rect x="371.95" y="328.31" width="26.7" height="19.89" fill="#E98B2C"/>
<text transform="translate(385.3 326.97) rotate(0.03)" font-size="4.9" fill="#111" text-anchor="middle" stroke="#111" stroke-width="0.08">13</text>
<rect x="416.45" y="343.61" width="26.7" height="4.59" fill="#E98B2C"/>
<text transform="translate(429.8 342.27) rotate(0.03)" font-size="4.9" fill="#111" text-anchor="middle" stroke="#111" stroke-width="0.08">3</text>
<rect x="460.95" y="309.95" width="26.7" height="38.25" fill="#8B0000"/>
<text transform="translate(474.3 308.61) rotate(0.03)" font-size="4.9" fill="#111" text-anchor="middle" stroke="#111" stroke-width="0.08">25</text>
<circle cx="385.3" cy="382.3" r="0.6" fill="#D0D0D0"/>
<circle cx="385.3" cy="361" r="0.88" fill="#E98B2C"/>
<circle cx="429.8" cy="361" r="0.6" fill="#D0D0D0"/>
<circle cx="429.8" cy="382.3" r="0.88" fill="#E98B2C"/>
<line x1="474.3" y1="361" x2="474.3" y2="382.3" stroke="#8B0000" stroke-width="0.6"/>
<circle cx="474.3" cy="361" r="0.88" fill="#8B0000"/>
<circle cx="474.3" cy="382.3" r="0.88" fill="#8B0000"/>
<rect x="294.2" y="356.75" width="25.8" height="8.5" fill="#333333"/>
<text transform="translate(320.8 362.71) rotate(0.03)" font-size="4.75" fill="#000" stroke="#000" stroke-width="0.2">Region 1</text>
<rect x="301" y="378.05" width="19" height="8.5" fill="#333333"/>
<text transform="translate(320.8 384.01) rotate(0.03)" font-size="4.75" fill="#000" stroke="#000" stroke-width="0.2">Region 2</text>
<line x1="267" y1="392.8" x2="322.5" y2="392.8" stroke="#B5B5B5" stroke-width="0.5"/>
<text transform="translate(320 396.7) rotate(0.03)" font-size="3.6" fill="#8A8A8A" text-anchor="middle" stroke="#8A8A8A" stroke-width="0.2">0</text>
<text transform="translate(306.5 396.7) rotate(0.03)" font-size="3.6" fill="#8A8A8A" text-anchor="middle" stroke="#8A8A8A" stroke-width="0.2">20</text>
<text transform="translate(293 396.7) rotate(0.03)" font-size="3.6" fill="#8A8A8A" text-anchor="middle" stroke="#8A8A8A" stroke-width="0.2">40</text>
<text transform="translate(279.5 396.7) rotate(0.03)" font-size="3.6" fill="#8A8A8A" text-anchor="middle" stroke="#8A8A8A" stroke-width="0.2">60</text>
<text transform="translate(295.6 403.65) rotate(0.03)" font-size="5.15" fill="#111" text-anchor="middle" stroke="#111" stroke-width="0.2">Variants per sample</text>
<text transform="translate(397.8 226.07) rotate(0.03)" font-size="5.2" fill="#111" text-anchor="middle" stroke="#111" stroke-width="0.2">Subject 4</text>
<text transform="translate(326.6 290) rotate(-90)" font-size="5.22" fill="#222" text-anchor="middle" dy="1.9" stroke="#222" stroke-width="0.08">Variant intersections</text>
<rect x="343.1" y="228.2" width="101.4" height="37" fill="#FFFFFF" stroke="#4A4A4A" stroke-width="0.7" rx="1.2"/>
<text transform="translate(346.5 234.42) rotate(0.03)" font-size="4.5" fill="#E98B2C" stroke="#E98B2C" stroke-width="0.16">PAK1LP1</text>
<text transform="translate(346.5 239.35) rotate(0.03)" font-size="3.75" fill="#E98B2C" stroke="#E98B2C" stroke-width="0.16">p.His18Pro</text>
<text transform="translate(346.5 243.65) rotate(0.03)" font-size="3.75" fill="#E98B2C" stroke="#E98B2C" stroke-width="0.16">IC<tspan font-size="2.33" dy="0.82">50</tspan><tspan dy="-0.82"> 153.36</tspan></text>
<text transform="translate(369.2 234.42) rotate(0.03)" font-size="4.5" fill="#8E1B1B" stroke="#8E1B1B" stroke-width="0.16">AMBRA1</text>
<text transform="translate(369.2 239.35) rotate(0.03)" font-size="3.75" fill="#8E1B1B" stroke="#8E1B1B" stroke-width="0.16">p.Ser400Ala</text>
<text transform="translate(369.2 243.65) rotate(0.03)" font-size="3.75" fill="#8E1B1B" stroke="#8E1B1B" stroke-width="0.16">IC<tspan font-size="2.33" dy="0.82">50</tspan><tspan dy="-0.82"> 59.56</tspan></text>
<text transform="translate(395.5 234.42) rotate(0.03)" font-size="4.5" fill="#8E1B1B" stroke="#8E1B1B" stroke-width="0.16">SEMA6D</text>
<text transform="translate(395.5 239.35) rotate(0.03)" font-size="3.75" fill="#8E1B1B" stroke="#8E1B1B" stroke-width="0.16">p.Ile856Thr</text>
<text transform="translate(395.5 243.65) rotate(0.03)" font-size="3.75" fill="#8E1B1B" stroke="#8E1B1B" stroke-width="0.16">IC<tspan font-size="2.33" dy="0.82">50</tspan><tspan dy="-0.82"> 271.62</tspan></text>
<text transform="translate(420.5 234.42) rotate(0.03)" font-size="4.5" fill="#8E1B1B" stroke="#8E1B1B" stroke-width="0.16">TP53</text>
<text transform="translate(420.5 239.35) rotate(0.03)" font-size="3.75" fill="#8E1B1B" stroke="#8E1B1B" stroke-width="0.16">p.Glu258Gly</text>
<text transform="translate(420.5 243.65) rotate(0.03)" font-size="3.75" fill="#8E1B1B" stroke="#8E1B1B" stroke-width="0.16">IC<tspan font-size="2.33" dy="0.82">50</tspan><tspan dy="-0.82"> 77.56</tspan></text>
<text transform="translate(346.5 253.02) rotate(0.03)" font-size="4.5" fill="#8E1B1B" stroke="#8E1B1B" stroke-width="0.16">FEM1A</text>
<text transform="translate(346.5 257.95) rotate(0.03)" font-size="3.75" fill="#8E1B1B" stroke="#8E1B1B" stroke-width="0.16">p.Asp126Glu</text>
<text transform="translate(346.5 262.25) rotate(0.03)" font-size="3.75" fill="#8E1B1B" stroke="#8E1B1B" stroke-width="0.16">IC<tspan font-size="2.33" dy="0.82">50</tspan><tspan dy="-0.82"> 55.34</tspan></text>
<text transform="translate(371.5 253.02) rotate(0.03)" font-size="4.5" fill="#8E1B1B" stroke="#8E1B1B" stroke-width="0.16">KAT2B</text>
<text transform="translate(371.5 257.95) rotate(0.03)" font-size="3.75" fill="#8E1B1B" stroke="#8E1B1B" stroke-width="0.16">p.Ile198Val</text>
<text transform="translate(371.5 262.25) rotate(0.03)" font-size="3.75" fill="#8E1B1B" stroke="#8E1B1B" stroke-width="0.16">IC<tspan font-size="2.33" dy="0.82">50</tspan><tspan dy="-0.82"> 123.01</tspan></text>
<text transform="translate(395.5 253.02) rotate(0.03)" font-size="4.5" fill="#8E1B1B" stroke="#8E1B1B" stroke-width="0.16">DEPTOR</text>
<text transform="translate(395.5 257.95) rotate(0.03)" font-size="3.75" fill="#8E1B1B" stroke="#8E1B1B" stroke-width="0.16">p.Gln370His</text>
<text transform="translate(395.5 262.25) rotate(0.03)" font-size="3.75" fill="#8E1B1B" stroke="#8E1B1B" stroke-width="0.16">IC<tspan font-size="2.33" dy="0.82">50</tspan><tspan dy="-0.82"> 26.50</tspan></text>
<rect x="390" y="399.2" width="7" height="6" fill="#E98B2C"/>
<text transform="translate(398.4 403.94) rotate(0.03)" font-size="4.82" fill="#111" stroke="#111" stroke-width="0.2">Subclonal private</text>
<rect x="444" y="399.2" width="7" height="6" fill="#8B0000"/>
<text transform="translate(452.4 403.94) rotate(0.03)" font-size="4.82" fill="#111" stroke="#111" stroke-width="0.2">Clonal</text>
<line x1="22.5" y1="592.25" x2="251.3" y2="592.25" stroke="#E9E9E9" stroke-width="0.5"/>
<line x1="22.5" y1="558.75" x2="251.3" y2="558.75" stroke="#E9E9E9" stroke-width="0.5"/>
<line x1="22.5" y1="525.25" x2="251.3" y2="525.25" stroke="#E9E9E9" stroke-width="0.5"/>
<line x1="22.5" y1="491.75" x2="251.3" y2="491.75" stroke="#E9E9E9" stroke-width="0.5"/>
<line x1="22.5" y1="458.25" x2="251.3" y2="458.25" stroke="#E9E9E9" stroke-width="0.5"/>
<line x1="65.5" y1="452" x2="65.5" y2="599.2" stroke="#E9E9E9" stroke-width="0.5"/>
<line x1="136.9" y1="452" x2="136.9" y2="599.2" stroke="#E9E9E9" stroke-width="0.5"/>
<line x1="208.5" y1="452" x2="208.5" y2="599.2" stroke="#E9E9E9" stroke-width="0.5"/>
<line x1="65.5" y1="583" x2="65.5" y2="588.5" stroke="#222" stroke-width="0.45"/>
<rect x="38.72" y="584" width="53.55" height="3.8" fill="#B8540F" stroke="#7A3A10" stroke-width="0.3"/>
<circle cx="65.26" cy="511.8" r="0.6" fill="#000"/>
<circle cx="65.2" cy="541.3" r="0.6" fill="#000"/>
<circle cx="65.41" cy="546.2" r="0.6" fill="#000"/>
<circle cx="65.51" cy="584.23" r="0.74" fill="#000"/>
<circle cx="65.41" cy="584.15" r="0.74" fill="#000"/>
<circle cx="64.93" cy="584.28" r="0.74" fill="#000"/>
<circle cx="65.96" cy="585.7" r="0.74" fill="#000"/>
<circle cx="65.11" cy="584.5" r="0.74" fill="#000"/>
<circle cx="66.13" cy="586.51" r="0.74" fill="#000"/>
<circle cx="65.36" cy="586.31" r="0.74" fill="#000"/>
<circle cx="64.87" cy="587.91" r="0.74" fill="#000"/>
<line x1="136.9" y1="540.6" x2="136.9" y2="585.5" stroke="#222" stroke-width="0.45"/>
<rect x="110.12" y="548" width="53.55" height="15.3" fill="#00008B" stroke="#2B2B2B" stroke-width="0.4"/>
<line x1="110.12" y1="551.4" x2="163.68" y2="551.4" stroke="#3A3A3A" stroke-width="0.7"/>
<circle cx="136.75" cy="541" r="0.6" fill="#000"/>
<circle cx="136.63" cy="542.79" r="0.6" fill="#000"/>
<circle cx="137.12" cy="543.12" r="0.6" fill="#000"/>
<circle cx="136.96" cy="545.72" r="0.6" fill="#000"/>
<circle cx="136.81" cy="547.56" r="0.6" fill="#000"/>
<circle cx="136.59" cy="547.19" r="0.6" fill="#000"/>
<circle cx="136.69" cy="549.24" r="0.6" fill="#000"/>
<circle cx="136.85" cy="551.72" r="0.6" fill="#000"/>
<circle cx="136.96" cy="550.26" r="0.6" fill="#000"/>
<circle cx="136.76" cy="555.81" r="0.6" fill="#000"/>
<circle cx="137.04" cy="557.18" r="0.6" fill="#000"/>
<circle cx="136.95" cy="560.98" r="0.6" fill="#000"/>
<circle cx="137.16" cy="562.1" r="0.6" fill="#000"/>
<circle cx="136.75" cy="575" r="0.6" fill="#000"/>
<circle cx="136.63" cy="578" r="0.6" fill="#000"/>
<circle cx="137.08" cy="585.5" r="0.6" fill="#000"/>
<line x1="208.5" y1="503.7" x2="208.5" y2="587" stroke="#222" stroke-width="0.45"/>
<rect x="181.72" y="545.2" width="53.55" height="38.5" fill="#8B0000" stroke="#2B2B2B" stroke-width="0.4"/>
<line x1="181.72" y1="550.8" x2="235.28" y2="550.8" stroke="#3A3A3A" stroke-width="0.7"/>
<circle cx="208.49" cy="503.58" r="0.6" fill="#000"/>
<circle cx="208.62" cy="503.45" r="0.6" fill="#000"/>
<circle cx="208.55" cy="512" r="0.6" fill="#000"/>
<circle cx="208.37" cy="518.25" r="0.6" fill="#000"/>
<circle cx="208.57" cy="517.89" r="0.6" fill="#000"/>
<circle cx="208.47" cy="523" r="0.6" fill="#000"/>
<circle cx="208.81" cy="535" r="0.6" fill="#000"/>
<circle cx="208.61" cy="539.9" r="0.6" fill="#000"/>
<circle cx="208.64" cy="538.24" r="0.6" fill="#000"/>
<circle cx="208.85" cy="540.59" r="0.6" fill="#000"/>
<circle cx="208.2" cy="548.58" r="0.74" fill="#000"/>
<circle cx="208.74" cy="545.09" r="0.74" fill="#000"/>
<circle cx="208.45" cy="542.18" r="0.74" fill="#000"/>
<circle cx="207.96" cy="543.34" r="0.74" fill="#000"/>
<circle cx="208.88" cy="542.47" r="0.74" fill="#000"/>
<circle cx="208.15" cy="543.03" r="0.74" fill="#000"/>
<circle cx="209.02" cy="545.13" r="0.74" fill="#000"/>
<circle cx="208.43" cy="542.64" r="0.74" fill="#000"/>
<circle cx="209.04" cy="546.4" r="0.74" fill="#000"/>
<circle cx="209.01" cy="548.55" r="0.74" fill="#000"/>
<circle cx="208.38" cy="544.23" r="0.74" fill="#000"/>
<circle cx="209.04" cy="544.87" r="0.74" fill="#000"/>
<circle cx="208.01" cy="556.66" r="0.74" fill="#000"/>
<circle cx="208.12" cy="550.41" r="0.74" fill="#000"/>
<circle cx="208.48" cy="550.87" r="0.74" fill="#000"/>
<circle cx="208.17" cy="553.71" r="0.74" fill="#000"/>
<circle cx="208.39" cy="549.03" r="0.74" fill="#000"/>
<circle cx="208.59" cy="551.95" r="0.74" fill="#000"/>
<circle cx="208.77" cy="556.62" r="0.74" fill="#000"/>
<circle cx="208.66" cy="553.12" r="0.74" fill="#000"/>
<circle cx="208.19" cy="562.7" r="0.6" fill="#000"/>
<circle cx="208.7" cy="563.6" r="0.6" fill="#000"/>
<circle cx="208.71" cy="577.25" r="0.6" fill="#000"/>
<circle cx="208.43" cy="576.28" r="0.6" fill="#000"/>
<circle cx="208.59" cy="575.71" r="0.6" fill="#000"/>
<circle cx="207.89" cy="583.07" r="0.74" fill="#000"/>
<circle cx="208.03" cy="583.72" r="0.74" fill="#000"/>
<circle cx="207.87" cy="584.3" r="0.74" fill="#000"/>
<circle cx="208.01" cy="582.8" r="0.74" fill="#000"/>
<circle cx="208.31" cy="583.25" r="0.74" fill="#000"/>
<circle cx="209.02" cy="582.91" r="0.74" fill="#000"/>
<circle cx="208.01" cy="585.5" r="0.74" fill="#000"/>
<circle cx="208.29" cy="583.91" r="0.74" fill="#000"/>
<circle cx="207.97" cy="584.4" r="0.74" fill="#000"/>
<circle cx="209.19" cy="586.54" r="0.74" fill="#000"/>
<circle cx="208.48" cy="584.85" r="0.74" fill="#000"/>
<circle cx="207.94" cy="583.18" r="0.74" fill="#000"/>
<line x1="22.5" y1="452" x2="22.5" y2="599.6" stroke="#000" stroke-width="0.85"/>
<line x1="22.1" y1="599.2" x2="251.3" y2="599.2" stroke="#000" stroke-width="0.85"/>
<line x1="21" y1="592.25" x2="22.5" y2="592.25" stroke="#111" stroke-width="0.5"/>
<text transform="translate(19.9 593.91) rotate(0.03)" font-size="4.6" fill="#1A1A1A" text-anchor="end" font-family="DejaVu Sans, sans-serif" stroke="#1A1A1A" stroke-width="0.1">0.00</text>
<line x1="21" y1="558.75" x2="22.5" y2="558.75" stroke="#111" stroke-width="0.5"/>
<text transform="translate(19.9 560.41) rotate(0.03)" font-size="4.6" fill="#1A1A1A" text-anchor="end" font-family="DejaVu Sans, sans-serif" stroke="#1A1A1A" stroke-width="0.1">0.25</text>
<line x1="21" y1="525.25" x2="22.5" y2="525.25" stroke="#111" stroke-width="0.5"/>
<text transform="translate(19.9 526.91) rotate(0.03)" font-size="4.6" fill="#1A1A1A" text-anchor="end" font-family="DejaVu Sans, sans-serif" stroke="#1A1A1A" stroke-width="0.1">0.50</text>
<line x1="21" y1="491.75" x2="22.5" y2="491.75" stroke="#111" stroke-width="0.5"/>
<text transform="translate(19.9 493.41) rotate(0.03)" font-size="4.6" fill="#1A1A1A" text-anchor="end" font-family="DejaVu Sans, sans-serif" stroke="#1A1A1A" stroke-width="0.1">0.75</text>
<line x1="21" y1="458.25" x2="22.5" y2="458.25" stroke="#111" stroke-width="0.5"/>
<text transform="translate(19.9 459.91) rotate(0.03)" font-size="4.6" fill="#1A1A1A" text-anchor="end" font-family="DejaVu Sans, sans-serif" stroke="#1A1A1A" stroke-width="0.1">1.00</text>
<line x1="65.5" y1="599.2" x2="65.5" y2="600.7" stroke="#111" stroke-width="0.5"/>
<text transform="translate(65.5 606.01) rotate(0.03)" font-size="4.76" fill="#111" text-anchor="middle" stroke="#111" stroke-width="0.2">Subclonal private</text>
<line x1="136.9" y1="599.2" x2="136.9" y2="600.7" stroke="#111" stroke-width="0.5"/>
<text transform="translate(136.9 606.01) rotate(0.03)" font-size="4.76" fill="#111" text-anchor="middle" stroke="#111" stroke-width="0.2">Subclonal shared</text>
<line x1="208.5" y1="599.2" x2="208.5" y2="600.7" stroke="#111" stroke-width="0.5"/>
<text transform="translate(208.5 606.01) rotate(0.03)" font-size="4.76" fill="#111" text-anchor="middle" stroke="#111" stroke-width="0.2">Clonal</text>
<text transform="translate(137.4 445.07) rotate(0.03)" font-size="4.65" fill="#111" text-anchor="middle" stroke="#111" stroke-width="0.2">Subject 1</text>
<text transform="translate(3.7 525.5) rotate(-90)" font-size="5" fill="#111" text-anchor="middle" dy="1.8" stroke="#111" stroke-width="0.18">Variant Allele Frequency (VAF)</text>
<line x1="288.9" y1="591.5" x2="516.5" y2="591.5" stroke="#E9E9E9" stroke-width="0.5"/>
<line x1="288.9" y1="558.7" x2="516.5" y2="558.7" stroke="#E9E9E9" stroke-width="0.5"/>
<line x1="288.9" y1="525.9" x2="516.5" y2="525.9" stroke="#E9E9E9" stroke-width="0.5"/>
<line x1="288.9" y1="493.1" x2="516.5" y2="493.1" stroke="#E9E9E9" stroke-width="0.5"/>
<line x1="288.9" y1="460.3" x2="516.5" y2="460.3" stroke="#E9E9E9" stroke-width="0.5"/>
<line x1="331.5" y1="453.7" x2="331.5" y2="598.4" stroke="#E9E9E9" stroke-width="0.5"/>
<line x1="402.7" y1="453.7" x2="402.7" y2="598.4" stroke="#E9E9E9" stroke-width="0.5"/>
<line x1="474" y1="453.7" x2="474" y2="598.4" stroke="#E9E9E9" stroke-width="0.5"/>
<line x1="331.5" y1="585" x2="331.5" y2="589.3" stroke="#222" stroke-width="0.45"/>
<rect x="304.8" y="586.2" width="53.4" height="2.5" fill="#B8540F" stroke="#5A2A10" stroke-width="0.3"/>
<circle cx="331.34" cy="581" r="0.6" fill="#000"/>
<circle cx="331.26" cy="582.5" r="0.6" fill="#000"/>
<circle cx="332.13" cy="586.16" r="0.74" fill="#000"/>
<circle cx="331.01" cy="587.37" r="0.74" fill="#000"/>
<circle cx="330.84" cy="587.4" r="0.74" fill="#000"/>
<circle cx="332.17" cy="587.37" r="0.74" fill="#000"/>
<circle cx="331.77" cy="588.17" r="0.74" fill="#000"/>
<circle cx="331.31" cy="586.73" r="0.74" fill="#000"/>
<circle cx="331.88" cy="586.5" r="0.74" fill="#000"/>
<circle cx="331.89" cy="587.38" r="0.74" fill="#000"/>
<line x1="402.7" y1="530.8" x2="402.7" y2="587.7" stroke="#222" stroke-width="0.45"/>
<rect x="376" y="548.3" width="53.4" height="30.2" fill="#00008B" stroke="#2B2B2B" stroke-width="0.4"/>
<line x1="376" y1="575.7" x2="429.4" y2="575.7" stroke="#3A3A3A" stroke-width="0.7"/>
<circle cx="402.51" cy="530.8" r="0.6" fill="#000"/>
<circle cx="403.04" cy="547.5" r="0.6" fill="#000"/>
<circle cx="402.91" cy="575.5" r="0.6" fill="#000"/>
<circle cx="402.87" cy="576.5" r="0.6" fill="#000"/>
<circle cx="402.71" cy="585" r="0.6" fill="#000"/>
<circle cx="402.37" cy="587.5" r="0.6" fill="#000"/>
<line x1="474" y1="513.8" x2="474" y2="583" stroke="#222" stroke-width="0.45"/>
<rect x="447.3" y="548.3" width="53.4" height="23.1" fill="#8B0000" stroke="#2B2B2B" stroke-width="0.4"/>
<line x1="447.3" y1="554.5" x2="500.7" y2="554.5" stroke="#3A3A3A" stroke-width="0.7"/>
<circle cx="473.85" cy="514" r="0.6" fill="#000"/>
<circle cx="474.13" cy="516.52" r="0.6" fill="#000"/>
<circle cx="473.96" cy="517.91" r="0.6" fill="#000"/>
<circle cx="474.34" cy="523.75" r="0.6" fill="#000"/>
<circle cx="473.91" cy="523.82" r="0.6" fill="#000"/>
<circle cx="473.81" cy="520.88" r="0.6" fill="#000"/>
<circle cx="473.79" cy="526.79" r="0.6" fill="#000"/>
<circle cx="474.28" cy="528.5" r="0.6" fill="#000"/>
<circle cx="473.99" cy="529.36" r="0.6" fill="#000"/>
<circle cx="474.21" cy="533.61" r="0.6" fill="#000"/>
<circle cx="474.11" cy="531.34" r="0.6" fill="#000"/>
<circle cx="474.2" cy="534.64" r="0.6" fill="#000"/>
<circle cx="473.98" cy="534" r="0.6" fill="#000"/>
<circle cx="474.2" cy="536.71" r="0.6" fill="#000"/>
<circle cx="474.21" cy="537.33" r="0.6" fill="#000"/>
<circle cx="473.93" cy="539.89" r="0.6" fill="#000"/>
<circle cx="474.31" cy="537.61" r="0.6" fill="#000"/>
<circle cx="473.54" cy="545.35" r="0.74" fill="#000"/>
<circle cx="473.51" cy="541.76" r="0.74" fill="#000"/>
<circle cx="474.43" cy="546.43" r="0.74" fill="#000"/>
<circle cx="474.46" cy="541.88" r="0.74" fill="#000"/>
<circle cx="474.22" cy="546.88" r="0.74" fill="#000"/>
<circle cx="474.07" cy="543.1" r="0.74" fill="#000"/>
<circle cx="473.32" cy="541.79" r="0.74" fill="#000"/>
<circle cx="474.21" cy="546.83" r="0.74" fill="#000"/>
<circle cx="474.61" cy="550.21" r="0.74" fill="#000"/>
<circle cx="474.52" cy="549.47" r="0.74" fill="#000"/>
<circle cx="473.6" cy="552.61" r="0.74" fill="#000"/>
<circle cx="473.71" cy="548.01" r="0.74" fill="#000"/>
<circle cx="474.12" cy="547.92" r="0.74" fill="#000"/>
<circle cx="473.89" cy="548.07" r="0.74" fill="#000"/>
<circle cx="474.57" cy="547.05" r="0.74" fill="#000"/>
<circle cx="473.94" cy="548.83" r="0.74" fill="#000"/>
<circle cx="474.57" cy="550.67" r="0.74" fill="#000"/>
<circle cx="474.58" cy="549.37" r="0.74" fill="#000"/>
<circle cx="474.04" cy="550.01" r="0.74" fill="#000"/>
<circle cx="473.33" cy="550.19" r="0.74" fill="#000"/>
<circle cx="473.56" cy="549.52" r="0.74" fill="#000"/>
<circle cx="474.42" cy="546.03" r="0.74" fill="#000"/>
<circle cx="473.96" cy="547.38" r="0.74" fill="#000"/>
<circle cx="474.08" cy="551.8" r="0.74" fill="#000"/>
<circle cx="474.03" cy="548.61" r="0.74" fill="#000"/>
<circle cx="474.4" cy="550.44" r="0.74" fill="#000"/>
<circle cx="474.08" cy="546.85" r="0.74" fill="#000"/>
<circle cx="473.69" cy="547.99" r="0.74" fill="#000"/>
<circle cx="474.01" cy="552.18" r="0.74" fill="#000"/>
<circle cx="474.36" cy="550.49" r="0.74" fill="#000"/>
<circle cx="473.92" cy="553.3" r="0.74" fill="#000"/>
<circle cx="474.01" cy="550.9" r="0.74" fill="#000"/>
<circle cx="474.27" cy="557.1" r="0.74" fill="#000"/>
<circle cx="474.05" cy="556.62" r="0.74" fill="#000"/>
<circle cx="474.62" cy="556.82" r="0.74" fill="#000"/>
<circle cx="474.53" cy="558.59" r="0.74" fill="#000"/>
<circle cx="473.66" cy="560.54" r="0.74" fill="#000"/>
<circle cx="474.62" cy="557.48" r="0.74" fill="#000"/>
<circle cx="473.49" cy="559.72" r="0.74" fill="#000"/>
<circle cx="473.92" cy="553.97" r="0.74" fill="#000"/>
<circle cx="473.64" cy="553.58" r="0.74" fill="#000"/>
<circle cx="474.24" cy="553.58" r="0.74" fill="#000"/>
<circle cx="474.56" cy="559.27" r="0.74" fill="#000"/>
<circle cx="474.3" cy="554.24" r="0.74" fill="#000"/>
<circle cx="473.5" cy="558.28" r="0.74" fill="#000"/>
<circle cx="474.65" cy="560.06" r="0.74" fill="#000"/>
<circle cx="474.63" cy="554.76" r="0.74" fill="#000"/>
<circle cx="473.98" cy="556.19" r="0.74" fill="#000"/>
<circle cx="474.47" cy="560.92" r="0.74" fill="#000"/>
<circle cx="473.9" cy="554.29" r="0.74" fill="#000"/>
<circle cx="473.77" cy="557.12" r="0.74" fill="#000"/>
<circle cx="473.75" cy="554.57" r="0.74" fill="#000"/>
<circle cx="473.33" cy="558.78" r="0.74" fill="#000"/>
<circle cx="473.92" cy="557.43" r="0.74" fill="#000"/>
<circle cx="473.76" cy="553.14" r="0.74" fill="#000"/>
<circle cx="474.02" cy="557.99" r="0.74" fill="#000"/>
<circle cx="474.68" cy="560.51" r="0.74" fill="#000"/>
<circle cx="474.66" cy="566.31" r="0.74" fill="#000"/>
<circle cx="473.67" cy="560.84" r="0.74" fill="#000"/>
<circle cx="474.39" cy="560.32" r="0.74" fill="#000"/>
<circle cx="473.48" cy="562.16" r="0.74" fill="#000"/>
<circle cx="474.58" cy="563.38" r="0.74" fill="#000"/>
<circle cx="473.66" cy="566.55" r="0.74" fill="#000"/>
<circle cx="474.59" cy="561.19" r="0.74" fill="#000"/>
<circle cx="474.28" cy="564.56" r="0.74" fill="#000"/>
<circle cx="473.38" cy="560.72" r="0.74" fill="#000"/>
<circle cx="473.9" cy="565.51" r="0.74" fill="#000"/>
<circle cx="474.61" cy="560.58" r="0.74" fill="#000"/>
<circle cx="474.42" cy="565.08" r="0.74" fill="#000"/>
<circle cx="474.5" cy="560.67" r="0.74" fill="#000"/>
<circle cx="474.51" cy="560.53" r="0.74" fill="#000"/>
<circle cx="473.77" cy="563.63" r="0.74" fill="#000"/>
<circle cx="474.6" cy="571.32" r="0.74" fill="#000"/>
<circle cx="473.48" cy="569.61" r="0.74" fill="#000"/>
<circle cx="473.63" cy="571.16" r="0.74" fill="#000"/>
<circle cx="473.53" cy="568.66" r="0.74" fill="#000"/>
<circle cx="473.58" cy="568.3" r="0.74" fill="#000"/>
<circle cx="473.73" cy="569.87" r="0.74" fill="#000"/>
<circle cx="473.71" cy="572.56" r="0.74" fill="#000"/>
<circle cx="473.55" cy="571" r="0.74" fill="#000"/>
<circle cx="473.33" cy="570.08" r="0.74" fill="#000"/>
<circle cx="473.32" cy="569.5" r="0.74" fill="#000"/>
<circle cx="474.04" cy="577.93" r="0.6" fill="#000"/>
<circle cx="473.98" cy="575.76" r="0.6" fill="#000"/>
<circle cx="473.72" cy="578.74" r="0.6" fill="#000"/>
<circle cx="473.95" cy="578.28" r="0.6" fill="#000"/>
<circle cx="474.23" cy="576.98" r="0.6" fill="#000"/>
<circle cx="474" cy="580.68" r="0.6" fill="#000"/>
<circle cx="474.34" cy="581.56" r="0.6" fill="#000"/>
<circle cx="474.23" cy="580.53" r="0.6" fill="#000"/>
<line x1="288.9" y1="453.7" x2="288.9" y2="598.8" stroke="#000" stroke-width="0.85"/>
<line x1="288.5" y1="598.4" x2="516.5" y2="598.4" stroke="#000" stroke-width="0.85"/>
<line x1="287.4" y1="591.5" x2="288.9" y2="591.5" stroke="#111" stroke-width="0.5"/>
<text transform="translate(286.3 593.39) rotate(0.03)" font-size="5.25" fill="#1A1A1A" text-anchor="end" stroke="#1A1A1A" stroke-width="0.1">0.00</text>
<line x1="287.4" y1="558.7" x2="288.9" y2="558.7" stroke="#111" stroke-width="0.5"/>
<text transform="translate(286.3 560.59) rotate(0.03)" font-size="5.25" fill="#1A1A1A" text-anchor="end" stroke="#1A1A1A" stroke-width="0.1">0.25</text>
<line x1="287.4" y1="525.9" x2="288.9" y2="525.9" stroke="#111" stroke-width="0.5"/>
<text transform="translate(286.3 527.79) rotate(0.03)" font-size="5.25" fill="#1A1A1A" text-anchor="end" stroke="#1A1A1A" stroke-width="0.1">0.50</text>
<line x1="287.4" y1="493.1" x2="288.9" y2="493.1" stroke="#111" stroke-width="0.5"/>
<text transform="translate(286.3 494.99) rotate(0.03)" font-size="5.25" fill="#1A1A1A" text-anchor="end" stroke="#1A1A1A" stroke-width="0.1">0.75</text>
<line x1="287.4" y1="460.3" x2="288.9" y2="460.3" stroke="#111" stroke-width="0.5"/>
<text transform="translate(286.3 462.19) rotate(0.03)" font-size="5.25" fill="#1A1A1A" text-anchor="end" stroke="#1A1A1A" stroke-width="0.1">1.00</text>
<line x1="331.5" y1="598.4" x2="331.5" y2="599.9" stroke="#111" stroke-width="0.5"/>
<text transform="translate(331.5 605.96) rotate(0.03)" font-size="5.18" fill="#111" text-anchor="middle" stroke="#111" stroke-width="0.2">Subclonal private</text>
<line x1="402.7" y1="598.4" x2="402.7" y2="599.9" stroke="#111" stroke-width="0.5"/>
<text transform="translate(402.7 605.96) rotate(0.03)" font-size="5.18" fill="#111" text-anchor="middle" stroke="#111" stroke-width="0.2">Subclonal shared</text>
<line x1="474" y1="598.4" x2="474" y2="599.9" stroke="#111" stroke-width="0.5"/>
<text transform="translate(474 605.96) rotate(0.03)" font-size="5.18" fill="#111" text-anchor="middle" stroke="#111" stroke-width="0.2">Clonal</text>
<text transform="translate(404.6 446.07) rotate(0.03)" font-size="5.2" fill="#111" text-anchor="middle" stroke="#111" stroke-width="0.2">Subject 2</text>
<text transform="translate(269.8 526.3) rotate(-90)" font-size="5.42" fill="#111" text-anchor="middle" dy="1.95" stroke="#111" stroke-width="0.18">Variant Allele Frequency (VAF)</text>
<line x1="23.4" y1="778.8" x2="252.2" y2="778.8" stroke="#E9E9E9" stroke-width="0.5"/>
<line x1="23.4" y1="745.67" x2="252.2" y2="745.67" stroke="#E9E9E9" stroke-width="0.5"/>
<line x1="23.4" y1="712.55" x2="252.2" y2="712.55" stroke="#E9E9E9" stroke-width="0.5"/>
<line x1="23.4" y1="679.42" x2="252.2" y2="679.42" stroke="#E9E9E9" stroke-width="0.5"/>
<line x1="23.4" y1="646.3" x2="252.2" y2="646.3" stroke="#E9E9E9" stroke-width="0.5"/>
<line x1="66.3" y1="639.6" x2="66.3" y2="785.2" stroke="#E9E9E9" stroke-width="0.5"/>
<line x1="137.7" y1="639.6" x2="137.7" y2="785.2" stroke="#E9E9E9" stroke-width="0.5"/>
<line x1="209.2" y1="639.6" x2="209.2" y2="785.2" stroke="#E9E9E9" stroke-width="0.5"/>
<line x1="66.3" y1="744" x2="66.3" y2="775.6" stroke="#222" stroke-width="0.45"/>
<rect x="39.52" y="761.5" width="53.55" height="13.2" fill="#D5600C" stroke="#2B2B2B" stroke-width="0.4"/>
<line x1="39.52" y1="765.5" x2="93.07" y2="765.5" stroke="#3A3A3A" stroke-width="0.7"/>
<circle cx="66.4" cy="732.2" r="0.6" fill="#000"/>
<circle cx="66.19" cy="744.5" r="0.6" fill="#000"/>
<circle cx="66.04" cy="751" r="0.6" fill="#000"/>
<circle cx="66.47" cy="762" r="0.6" fill="#000"/>
<circle cx="66.06" cy="763.5" r="0.6" fill="#000"/>
<circle cx="66.54" cy="766" r="0.6" fill="#000"/>
<circle cx="66.42" cy="771.5" r="0.6" fill="#000"/>
<circle cx="66.12" cy="774.78" r="0.6" fill="#000"/>
<circle cx="66.27" cy="774.79" r="0.6" fill="#000"/>
<line x1="137.7" y1="723.3" x2="137.7" y2="763.3" stroke="#222" stroke-width="0.45"/>
<rect x="110.92" y="725.8" width="53.55" height="20.6" fill="#00008B" stroke="#2B2B2B" stroke-width="0.4"/>
<line x1="110.92" y1="728.2" x2="164.47" y2="728.2" stroke="#3A3A3A" stroke-width="0.7"/>
<circle cx="137.66" cy="723.3" r="0.6" fill="#000"/>
<circle cx="138.02" cy="724.3" r="0.6" fill="#000"/>
<circle cx="137.73" cy="726.5" r="0.6" fill="#000"/>
<circle cx="138.03" cy="728.5" r="0.6" fill="#000"/>
<circle cx="137.6" cy="748.5" r="0.6" fill="#000"/>
<circle cx="137.62" cy="763.3" r="0.6" fill="#000"/>
<line x1="209.2" y1="697.8" x2="209.2" y2="768.5" stroke="#222" stroke-width="0.45"/>
<rect x="182.42" y="726" width="53.55" height="19.2" fill="#8B0000" stroke="#2B2B2B" stroke-width="0.4"/>
<line x1="182.42" y1="735.3" x2="235.97" y2="735.3" stroke="#3A3A3A" stroke-width="0.7"/>
<circle cx="209.2" cy="689.5" r="0.6" fill="#000"/>
<circle cx="209.2" cy="692.78" r="0.6" fill="#000"/>
<circle cx="209.03" cy="692.31" r="0.6" fill="#000"/>
<circle cx="209.13" cy="692.52" r="0.6" fill="#000"/>
<circle cx="208.87" cy="692.4" r="0.6" fill="#000"/>
<circle cx="209.01" cy="699" r="0.6" fill="#000"/>
<circle cx="209.22" cy="708" r="0.6" fill="#000"/>
<circle cx="209.31" cy="716.5" r="0.6" fill="#000"/>
<circle cx="209.47" cy="716.43" r="0.6" fill="#000"/>
<circle cx="208.96" cy="721.45" r="0.74" fill="#000"/>
<circle cx="208.71" cy="724.42" r="0.74" fill="#000"/>
<circle cx="209.4" cy="723.12" r="0.74" fill="#000"/>
<circle cx="209.67" cy="719.72" r="0.74" fill="#000"/>
<circle cx="209.38" cy="723.96" r="0.74" fill="#000"/>
<circle cx="209.64" cy="723.17" r="0.74" fill="#000"/>
<circle cx="209.23" cy="720.2" r="0.74" fill="#000"/>
<circle cx="209.67" cy="722.02" r="0.74" fill="#000"/>
<circle cx="209.66" cy="723.52" r="0.74" fill="#000"/>
<circle cx="209.75" cy="722.42" r="0.74" fill="#000"/>
<circle cx="209.47" cy="729.28" r="0.74" fill="#000"/>
<circle cx="208.54" cy="726.11" r="0.74" fill="#000"/>
<circle cx="209" cy="725.43" r="0.74" fill="#000"/>
<circle cx="209.67" cy="725.23" r="0.74" fill="#000"/>
<circle cx="209.38" cy="728.41" r="0.74" fill="#000"/>
<circle cx="209.45" cy="728.88" r="0.74" fill="#000"/>
<circle cx="208.5" cy="727.93" r="0.74" fill="#000"/>
<circle cx="209.55" cy="730.08" r="0.74" fill="#000"/>
<circle cx="209.25" cy="728.02" r="0.74" fill="#000"/>
<circle cx="208.59" cy="729.12" r="0.74" fill="#000"/>
<circle cx="208.85" cy="729.66" r="0.74" fill="#000"/>
<circle cx="208.87" cy="725.02" r="0.74" fill="#000"/>
<circle cx="208.79" cy="729.61" r="0.74" fill="#000"/>
<circle cx="209.87" cy="729.68" r="0.74" fill="#000"/>
<circle cx="209.04" cy="727.96" r="0.74" fill="#000"/>
<circle cx="209.46" cy="727.85" r="0.74" fill="#000"/>
<circle cx="209.36" cy="729.87" r="0.74" fill="#000"/>
<circle cx="208.61" cy="729" r="0.74" fill="#000"/>
<circle cx="208.86" cy="725.53" r="0.74" fill="#000"/>
<circle cx="208.93" cy="729.7" r="0.74" fill="#000"/>
<circle cx="208.52" cy="728.47" r="0.74" fill="#000"/>
<circle cx="208.88" cy="724.92" r="0.74" fill="#000"/>
<circle cx="209.47" cy="729.2" r="0.74" fill="#000"/>
<circle cx="208.91" cy="729.23" r="0.74" fill="#000"/>
<circle cx="209.15" cy="735.13" r="0.74" fill="#000"/>
<circle cx="208.67" cy="734.73" r="0.74" fill="#000"/>
<circle cx="208.78" cy="738.15" r="0.74" fill="#000"/>
<circle cx="209.81" cy="738.83" r="0.74" fill="#000"/>
<circle cx="209.14" cy="731.14" r="0.74" fill="#000"/>
<circle cx="209.86" cy="737.56" r="0.74" fill="#000"/>
<circle cx="208.88" cy="734.6" r="0.74" fill="#000"/>
<circle cx="209.82" cy="732.68" r="0.74" fill="#000"/>
<circle cx="209.31" cy="732.69" r="0.74" fill="#000"/>
<circle cx="209.23" cy="732.13" r="0.74" fill="#000"/>
<circle cx="208.69" cy="738.62" r="0.74" fill="#000"/>
<circle cx="209.21" cy="737.56" r="0.74" fill="#000"/>
<circle cx="209.48" cy="738.09" r="0.74" fill="#000"/>
<circle cx="209.76" cy="732.85" r="0.74" fill="#000"/>
<circle cx="208.53" cy="734.89" r="0.74" fill="#000"/>
<circle cx="209.19" cy="731.03" r="0.74" fill="#000"/>
<circle cx="208.92" cy="734.61" r="0.74" fill="#000"/>
<circle cx="208.98" cy="732.13" r="0.74" fill="#000"/>
<circle cx="209.68" cy="733.53" r="0.74" fill="#000"/>
<circle cx="209.55" cy="731.01" r="0.74" fill="#000"/>
<circle cx="208.67" cy="737.71" r="0.74" fill="#000"/>
<circle cx="209.5" cy="738.41" r="0.74" fill="#000"/>
<circle cx="208.91" cy="738.21" r="0.74" fill="#000"/>
<circle cx="209.05" cy="733.98" r="0.74" fill="#000"/>
<circle cx="209.32" cy="738.99" r="0.74" fill="#000"/>
<circle cx="209.1" cy="733.89" r="0.74" fill="#000"/>
<circle cx="208.57" cy="733.2" r="0.74" fill="#000"/>
<circle cx="209.67" cy="731.81" r="0.74" fill="#000"/>
<circle cx="209.81" cy="733.28" r="0.74" fill="#000"/>
<circle cx="208.87" cy="732.99" r="0.74" fill="#000"/>
<circle cx="208.77" cy="742.08" r="0.74" fill="#000"/>
<circle cx="209.84" cy="741.11" r="0.74" fill="#000"/>
<circle cx="209.64" cy="744.69" r="0.74" fill="#000"/>
<circle cx="209.78" cy="742.92" r="0.74" fill="#000"/>
<circle cx="209.27" cy="745.08" r="0.74" fill="#000"/>
<circle cx="208.57" cy="743.54" r="0.74" fill="#000"/>
<circle cx="209.13" cy="743.63" r="0.74" fill="#000"/>
<circle cx="209.4" cy="743.77" r="0.74" fill="#000"/>
<circle cx="208.57" cy="740.5" r="0.74" fill="#000"/>
<circle cx="208.68" cy="744.99" r="0.74" fill="#000"/>
<circle cx="208.98" cy="741.81" r="0.74" fill="#000"/>
<circle cx="209.53" cy="740.58" r="0.74" fill="#000"/>
<circle cx="208.86" cy="745.33" r="0.74" fill="#000"/>
<circle cx="208.92" cy="743.09" r="0.74" fill="#000"/>
<circle cx="209.05" cy="742.4" r="0.74" fill="#000"/>
<circle cx="208.73" cy="739.67" r="0.74" fill="#000"/>
<circle cx="209.77" cy="739.96" r="0.74" fill="#000"/>
<circle cx="208.81" cy="741.98" r="0.74" fill="#000"/>
<circle cx="209.9" cy="744.84" r="0.74" fill="#000"/>
<circle cx="208.7" cy="741.65" r="0.74" fill="#000"/>
<circle cx="208.63" cy="739.85" r="0.74" fill="#000"/>
<circle cx="208.63" cy="740.89" r="0.74" fill="#000"/>
<circle cx="208.86" cy="740.17" r="0.74" fill="#000"/>
<circle cx="209.74" cy="742.49" r="0.74" fill="#000"/>
<circle cx="209.08" cy="749.5" r="0.74" fill="#000"/>
<circle cx="209.23" cy="747.48" r="0.74" fill="#000"/>
<circle cx="208.97" cy="747.26" r="0.74" fill="#000"/>
<circle cx="208.89" cy="745.37" r="0.74" fill="#000"/>
<circle cx="208.68" cy="750.81" r="0.74" fill="#000"/>
<circle cx="209.38" cy="748.02" r="0.74" fill="#000"/>
<circle cx="208.8" cy="750.18" r="0.74" fill="#000"/>
<circle cx="208.85" cy="746.63" r="0.74" fill="#000"/>
<circle cx="209.12" cy="747.4" r="0.74" fill="#000"/>
<circle cx="209.69" cy="750.72" r="0.74" fill="#000"/>
<circle cx="208.53" cy="750.24" r="0.74" fill="#000"/>
<circle cx="209.49" cy="745.19" r="0.74" fill="#000"/>
<circle cx="209.16" cy="756.37" r="0.74" fill="#000"/>
<circle cx="208.5" cy="754.52" r="0.74" fill="#000"/>
<circle cx="209.8" cy="753.35" r="0.74" fill="#000"/>
<circle cx="209.7" cy="755.95" r="0.74" fill="#000"/>
<circle cx="208.85" cy="756.83" r="0.74" fill="#000"/>
<circle cx="208.72" cy="751.65" r="0.74" fill="#000"/>
<circle cx="209.33" cy="760.13" r="0.6" fill="#000"/>
<circle cx="209.36" cy="762.65" r="0.6" fill="#000"/>
<circle cx="209.39" cy="760.88" r="0.6" fill="#000"/>
<circle cx="209.24" cy="759.74" r="0.6" fill="#000"/>
<circle cx="209.4" cy="764.16" r="0.6" fill="#000"/>
<circle cx="209.49" cy="764.93" r="0.6" fill="#000"/>
<circle cx="209.06" cy="766.58" r="0.6" fill="#000"/>
<circle cx="209.03" cy="775.6" r="0.6" fill="#000"/>
<line x1="23.4" y1="639.6" x2="23.4" y2="785.6" stroke="#000" stroke-width="0.85"/>
<line x1="23" y1="785.2" x2="252.2" y2="785.2" stroke="#000" stroke-width="0.85"/>
<line x1="21.9" y1="778.8" x2="23.4" y2="778.8" stroke="#111" stroke-width="0.5"/>
<text transform="translate(20.8 780.71) rotate(0.03)" font-size="5.3" fill="#1A1A1A" text-anchor="end" stroke="#1A1A1A" stroke-width="0.1">0.00</text>
<line x1="21.9" y1="745.67" x2="23.4" y2="745.67" stroke="#111" stroke-width="0.5"/>
<text transform="translate(20.8 747.58) rotate(0.03)" font-size="5.3" fill="#1A1A1A" text-anchor="end" stroke="#1A1A1A" stroke-width="0.1">0.25</text>
<line x1="21.9" y1="712.55" x2="23.4" y2="712.55" stroke="#111" stroke-width="0.5"/>
<text transform="translate(20.8 714.46) rotate(0.03)" font-size="5.3" fill="#1A1A1A" text-anchor="end" stroke="#1A1A1A" stroke-width="0.1">0.50</text>
<line x1="21.9" y1="679.42" x2="23.4" y2="679.42" stroke="#111" stroke-width="0.5"/>
<text transform="translate(20.8 681.33) rotate(0.03)" font-size="5.3" fill="#1A1A1A" text-anchor="end" stroke="#1A1A1A" stroke-width="0.1">0.75</text>
<line x1="21.9" y1="646.3" x2="23.4" y2="646.3" stroke="#111" stroke-width="0.5"/>
<text transform="translate(20.8 648.21) rotate(0.03)" font-size="5.3" fill="#1A1A1A" text-anchor="end" stroke="#1A1A1A" stroke-width="0.1">1.00</text>
<line x1="66.3" y1="785.2" x2="66.3" y2="786.7" stroke="#111" stroke-width="0.5"/>
<text transform="translate(66.3 794.41) rotate(0.03)" font-size="5.3" fill="#111" text-anchor="middle" stroke="#111" stroke-width="0.2">Subclonal private</text>
<line x1="137.7" y1="785.2" x2="137.7" y2="786.7" stroke="#111" stroke-width="0.5"/>
<text transform="translate(137.7 794.41) rotate(0.03)" font-size="5.3" fill="#111" text-anchor="middle" stroke="#111" stroke-width="0.2">Subclonal shared</text>
<line x1="209.2" y1="785.2" x2="209.2" y2="786.7" stroke="#111" stroke-width="0.5"/>
<text transform="translate(209.2 794.41) rotate(0.03)" font-size="5.3" fill="#111" text-anchor="middle" stroke="#111" stroke-width="0.2">Clonal</text>
<text transform="translate(138.8 631.71) rotate(0.03)" font-size="5.3" fill="#111" text-anchor="middle" stroke="#111" stroke-width="0.2">Subject 3</text>
<text transform="translate(3.7 714.4) rotate(-90)" font-size="5.5" fill="#111" text-anchor="middle" dy="1.98" stroke="#111" stroke-width="0.18">Variant Allele Frequency (VAF)</text>
<line x1="290.8" y1="776.5" x2="517" y2="776.5" stroke="#E9E9E9" stroke-width="0.5"/>
<line x1="290.8" y1="743.75" x2="517" y2="743.75" stroke="#E9E9E9" stroke-width="0.5"/>
<line x1="290.8" y1="711" x2="517" y2="711" stroke="#E9E9E9" stroke-width="0.5"/>
<line x1="290.8" y1="678.25" x2="517" y2="678.25" stroke="#E9E9E9" stroke-width="0.5"/>
<line x1="290.8" y1="645.5" x2="517" y2="645.5" stroke="#E9E9E9" stroke-width="0.5"/>
<line x1="352.6" y1="638.7" x2="352.6" y2="783.1" stroke="#E9E9E9" stroke-width="0.5"/>
<line x1="455.4" y1="638.7" x2="455.4" y2="783.1" stroke="#E9E9E9" stroke-width="0.5"/>
<line x1="352.6" y1="766" x2="352.6" y2="773.6" stroke="#222" stroke-width="0.45"/>
<rect x="314.05" y="769.2" width="77.1" height="3.4" fill="#E98B2C" stroke="#4A3010" stroke-width="0.35"/>
<circle cx="352.74" cy="758.5" r="0.6" fill="#000"/>
<circle cx="352.3" cy="765" r="0.6" fill="#000"/>
<circle cx="352.66" cy="766.5" r="0.6" fill="#000"/>
<circle cx="352.41" cy="768" r="0.6" fill="#000"/>
<circle cx="351.91" cy="771.86" r="0.74" fill="#000"/>
<circle cx="352.54" cy="770.79" r="0.74" fill="#000"/>
<circle cx="352.8" cy="773.15" r="0.74" fill="#000"/>
<circle cx="352.57" cy="772.88" r="0.74" fill="#000"/>
<circle cx="352.25" cy="770.55" r="0.74" fill="#000"/>
<circle cx="352.89" cy="773.16" r="0.74" fill="#000"/>
<circle cx="351.93" cy="770.81" r="0.74" fill="#000"/>
<circle cx="352.84" cy="771.49" r="0.74" fill="#000"/>
<line x1="455.4" y1="670.4" x2="455.4" y2="773.5" stroke="#222" stroke-width="0.45"/>
<rect x="416.85" y="711" width="77.1" height="28.6" fill="#8B0000" stroke="#2B2B2B" stroke-width="0.4"/>
<line x1="416.85" y1="723.3" x2="493.95" y2="723.3" stroke="#3A3A3A" stroke-width="0.7"/>
<circle cx="455.23" cy="655.6" r="0.6" fill="#000"/>
<circle cx="455.7" cy="670.5" r="0.6" fill="#000"/>
<circle cx="455.07" cy="678" r="0.6" fill="#000"/>
<circle cx="455.34" cy="686" r="0.6" fill="#000"/>
<circle cx="455.19" cy="693" r="0.6" fill="#000"/>
<circle cx="455.57" cy="699.59" r="0.6" fill="#000"/>
<circle cx="455.19" cy="699.01" r="0.6" fill="#000"/>
<circle cx="455.27" cy="705.41" r="0.6" fill="#000"/>
<circle cx="455.21" cy="704.96" r="0.6" fill="#000"/>
<circle cx="455.58" cy="703.16" r="0.6" fill="#000"/>
<circle cx="455.72" cy="708.38" r="0.6" fill="#000"/>
<circle cx="455.18" cy="708.99" r="0.6" fill="#000"/>
<circle cx="455.34" cy="708.17" r="0.6" fill="#000"/>
<circle cx="455.71" cy="714.66" r="0.6" fill="#000"/>
<circle cx="455.33" cy="712.59" r="0.6" fill="#000"/>
<circle cx="455.73" cy="712.85" r="0.6" fill="#000"/>
<circle cx="455.09" cy="712.57" r="0.6" fill="#000"/>
<circle cx="455.33" cy="717.74" r="0.6" fill="#000"/>
<circle cx="455.67" cy="721.09" r="0.6" fill="#000"/>
<circle cx="455.75" cy="720.43" r="0.6" fill="#000"/>
<circle cx="455.28" cy="721.23" r="0.6" fill="#000"/>
<circle cx="455.71" cy="718.24" r="0.6" fill="#000"/>
<circle cx="455.07" cy="727.99" r="0.6" fill="#000"/>
<circle cx="455.32" cy="727.66" r="0.6" fill="#000"/>
<circle cx="455.28" cy="726.5" r="0.6" fill="#000"/>
<circle cx="455.05" cy="725.68" r="0.6" fill="#000"/>
<circle cx="455.3" cy="731.12" r="0.6" fill="#000"/>
<circle cx="455.14" cy="733.82" r="0.6" fill="#000"/>
<circle cx="455.2" cy="733.86" r="0.6" fill="#000"/>
<circle cx="455.63" cy="736.43" r="0.6" fill="#000"/>
<circle cx="455.35" cy="738.29" r="0.6" fill="#000"/>
<circle cx="455.38" cy="735.2" r="0.6" fill="#000"/>
<circle cx="455.69" cy="741.49" r="0.6" fill="#000"/>
<circle cx="455.3" cy="740.77" r="0.6" fill="#000"/>
<circle cx="455.07" cy="743.59" r="0.6" fill="#000"/>
<circle cx="455.62" cy="741.64" r="0.6" fill="#000"/>
<circle cx="455.08" cy="747.53" r="0.6" fill="#000"/>
<circle cx="455.09" cy="746.07" r="0.6" fill="#000"/>
<circle cx="455.23" cy="753" r="0.6" fill="#000"/>
<circle cx="455.68" cy="773.49" r="0.6" fill="#000"/>
<circle cx="455.24" cy="772.68" r="0.6" fill="#000"/>
<circle cx="455.48" cy="773.92" r="0.6" fill="#000"/>
<circle cx="455.55" cy="772.52" r="0.6" fill="#000"/>
<line x1="290.8" y1="638.7" x2="290.8" y2="783.5" stroke="#000" stroke-width="0.85"/>
<line x1="290.4" y1="783.1" x2="517" y2="783.1" stroke="#000" stroke-width="0.85"/>
<line x1="289.3" y1="776.5" x2="290.8" y2="776.5" stroke="#111" stroke-width="0.5"/>
<text transform="translate(288.2 778.39) rotate(0.03)" font-size="5.25" fill="#1A1A1A" text-anchor="end" stroke="#1A1A1A" stroke-width="0.1">0.00</text>
<line x1="289.3" y1="743.75" x2="290.8" y2="743.75" stroke="#111" stroke-width="0.5"/>
<text transform="translate(288.2 745.64) rotate(0.03)" font-size="5.25" fill="#1A1A1A" text-anchor="end" stroke="#1A1A1A" stroke-width="0.1">0.25</text>
<line x1="289.3" y1="711" x2="290.8" y2="711" stroke="#111" stroke-width="0.5"/>
<text transform="translate(288.2 712.89) rotate(0.03)" font-size="5.25" fill="#1A1A1A" text-anchor="end" stroke="#1A1A1A" stroke-width="0.1">0.50</text>
<line x1="289.3" y1="678.25" x2="290.8" y2="678.25" stroke="#111" stroke-width="0.5"/>
<text transform="translate(288.2 680.14) rotate(0.03)" font-size="5.25" fill="#1A1A1A" text-anchor="end" stroke="#1A1A1A" stroke-width="0.1">0.75</text>
<line x1="289.3" y1="645.5" x2="290.8" y2="645.5" stroke="#111" stroke-width="0.5"/>
<text transform="translate(288.2 647.39) rotate(0.03)" font-size="5.25" fill="#1A1A1A" text-anchor="end" stroke="#1A1A1A" stroke-width="0.1">1.00</text>
<line x1="352.6" y1="783.1" x2="352.6" y2="784.6" stroke="#111" stroke-width="0.5"/>
<text transform="translate(352.6 791.89) rotate(0.03)" font-size="5.8" fill="#111" text-anchor="middle" stroke="#111" stroke-width="0.2">Subclonal private</text>
<line x1="455.4" y1="783.1" x2="455.4" y2="784.6" stroke="#111" stroke-width="0.5"/>
<text transform="translate(455.4 791.89) rotate(0.03)" font-size="5.8" fill="#111" text-anchor="middle" stroke="#111" stroke-width="0.2">Clonal</text>
<text transform="translate(407.4 632.47) rotate(0.03)" font-size="5.76" fill="#111" text-anchor="middle" stroke="#111" stroke-width="0.2">Subject 4</text>
<text transform="translate(270.8 709.8) rotate(-90)" font-size="6.07" fill="#111" text-anchor="middle" dy="2.19" stroke="#111" stroke-width="0.18">Variant Allele Frequency (VAF)</text>
</g>
</svg>
</body></html>
